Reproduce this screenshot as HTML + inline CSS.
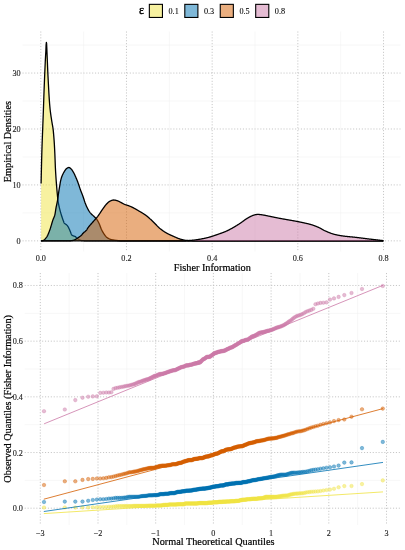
<!DOCTYPE html>
<html lang="en"><head><meta charset="utf-8"><title>Fisher Information</title>
<style>html,body{margin:0;padding:0;background:#fff}svg{display:block}text{fill:#000;stroke:#000;stroke-width:.2px}.t text{fill:#262626;stroke:#262626;stroke-width:.14px}.lg{stroke-width:.08px}</style></head>
<body>
<svg width="405" height="550" viewBox="0 0 405 550" font-family="'Liberation Serif', 'Times New Roman', serif">
<rect width="405" height="550" fill="#fff"/>
<text x="141.4" y="13.8" font-size="12" text-anchor="middle" style="stroke-width:.35px">ε</text>
<rect x="149.35" y="4.35" width="13.1" height="13.1" fill="#F0E442" fill-opacity="0.5" stroke="#000" stroke-width="1.1"/>
<text x="168.50" y="13.8" font-size="8.2" class="lg">0.1</text>
<rect x="184.80" y="4.35" width="13.1" height="13.1" fill="#0072B2" fill-opacity="0.5" stroke="#000" stroke-width="1.1"/>
<text x="203.95" y="13.8" font-size="8.2" class="lg">0.3</text>
<rect x="220.25" y="4.35" width="13.1" height="13.1" fill="#D55E00" fill-opacity="0.5" stroke="#000" stroke-width="1.1"/>
<text x="239.40" y="13.8" font-size="8.2" class="lg">0.5</text>
<rect x="255.70" y="4.35" width="13.1" height="13.1" fill="#CC79A7" fill-opacity="0.5" stroke="#000" stroke-width="1.1"/>
<text x="274.85" y="13.8" font-size="8.2" class="lg">0.8</text>
<line x1="83.64" x2="83.64" y1="31.5" y2="251.5" stroke="#f2f2f2" stroke-width="0.6"/>
<line x1="169.32" x2="169.32" y1="31.5" y2="251.5" stroke="#f2f2f2" stroke-width="0.6"/>
<line x1="255.00" x2="255.00" y1="31.5" y2="251.5" stroke="#f2f2f2" stroke-width="0.6"/>
<line x1="340.68" x2="340.68" y1="31.5" y2="251.5" stroke="#f2f2f2" stroke-width="0.6"/>
<line y1="212.88" y2="212.88" x1="22.5" x2="400.5" stroke="#f2f2f2" stroke-width="0.6"/>
<line y1="156.95" y2="156.95" x1="22.5" x2="400.5" stroke="#f2f2f2" stroke-width="0.6"/>
<line y1="101.03" y2="101.03" x1="22.5" x2="400.5" stroke="#f2f2f2" stroke-width="0.6"/>
<line y1="45.09" y2="45.09" x1="22.5" x2="400.5" stroke="#f2f2f2" stroke-width="0.6"/>
<line x1="40.80" x2="40.80" y1="31.5" y2="251.5" stroke="#b8b8b8" stroke-width="0.8" stroke-dasharray="1.1 1.8"/>
<line x1="126.48" x2="126.48" y1="31.5" y2="251.5" stroke="#b8b8b8" stroke-width="0.8" stroke-dasharray="1.1 1.8"/>
<line x1="212.16" x2="212.16" y1="31.5" y2="251.5" stroke="#b8b8b8" stroke-width="0.8" stroke-dasharray="1.1 1.8"/>
<line x1="297.84" x2="297.84" y1="31.5" y2="251.5" stroke="#b8b8b8" stroke-width="0.8" stroke-dasharray="1.1 1.8"/>
<line x1="383.52" x2="383.52" y1="31.5" y2="251.5" stroke="#b8b8b8" stroke-width="0.8" stroke-dasharray="1.1 1.8"/>
<line y1="240.85" y2="240.85" x1="22.5" x2="400.5" stroke="#b8b8b8" stroke-width="0.8" stroke-dasharray="1.1 1.8"/>
<line y1="184.92" y2="184.92" x1="22.5" x2="400.5" stroke="#b8b8b8" stroke-width="0.8" stroke-dasharray="1.1 1.8"/>
<line y1="128.99" y2="128.99" x1="22.5" x2="400.5" stroke="#b8b8b8" stroke-width="0.8" stroke-dasharray="1.1 1.8"/>
<line y1="73.06" y2="73.06" x1="22.5" x2="400.5" stroke="#b8b8b8" stroke-width="0.8" stroke-dasharray="1.1 1.8"/>
<path d="M41.10,183.60 L41.35,171.44 L41.60,161.07 L41.85,152.08 L42.10,144.22 L42.35,137.44 L42.60,131.11 L42.85,124.59 L43.10,118.10 L43.35,111.40 L43.60,104.03 L43.85,96.42 L44.10,89.62 L44.35,83.25 L44.60,77.08 L44.85,71.15 L45.10,65.42 L45.35,60.02 L45.60,55.58 L45.85,51.34 L46.10,44.82 L46.35,42.48 L46.60,43.51 L46.85,48.96 L47.10,55.17 L47.35,61.25 L47.60,67.64 L47.85,73.22 L48.10,78.17 L48.35,82.97 L48.60,87.82 L48.85,92.46 L49.10,96.60 L49.35,100.40 L49.60,103.79 L49.85,106.67 L50.10,109.19 L50.35,111.42 L50.60,113.40 L50.85,115.17 L51.10,116.82 L51.35,118.46 L51.60,120.06 L51.85,121.62 L52.10,123.15 L52.35,124.64 L52.60,125.99 L52.85,127.38 L53.10,129.08 L53.35,131.35 L53.60,134.11 L53.85,137.09 L54.10,140.38 L54.35,144.16 L54.60,148.67 L54.85,153.89 L55.10,160.21 L55.35,166.91 L55.60,171.75 L55.85,175.76 L56.10,179.45 L56.35,182.84 L56.60,186.00 L56.85,189.00 L57.10,191.84 L57.35,194.53 L57.60,197.22 L57.85,199.53 L58.10,201.24 L58.35,202.75 L58.60,204.11 L58.85,205.35 L59.10,206.49 L59.35,207.56 L59.60,208.59 L59.85,209.60 L60.10,210.60 L60.35,211.55 L60.60,212.45 L60.85,213.32 L61.10,214.15 L61.35,214.97 L61.60,215.76 L61.85,216.54 L62.10,217.32 L62.35,218.08 L62.60,218.81 L62.85,219.53 L63.10,220.21 L63.35,220.87 L63.60,221.53 L63.85,222.20 L64.10,222.78 L64.35,223.16 L64.60,223.40 L64.85,223.59 L65.10,223.76 L65.35,223.94 L65.60,224.11 L65.85,224.27 L66.10,224.45 L66.35,224.64 L66.60,224.86 L66.85,225.10 L67.10,225.37 L67.35,225.66 L67.60,225.99 L67.85,226.36 L68.10,226.76 L68.35,227.19 L68.60,227.66 L68.85,228.17 L69.10,228.72 L69.35,229.28 L69.60,229.87 L69.85,230.46 L70.10,231.04 L70.35,231.62 L70.60,232.26 L70.85,232.95 L71.10,233.64 L71.35,234.26 L71.60,234.75 L71.85,235.04 L72.10,235.24 L72.35,235.40 L72.60,235.54 L72.85,235.66 L73.10,235.76 L73.35,235.86 L73.60,235.96 L73.85,236.06 L74.10,236.14 L74.35,236.20 L74.60,236.27 L74.85,236.35 L75.10,236.45 L75.35,236.59 L75.60,236.81 L75.85,237.07 L76.10,237.36 L76.35,237.65 L76.60,237.91 L76.85,238.12 L77.10,238.33 L77.35,238.52 L77.60,238.71 L77.85,238.89 L78.10,239.06 L78.35,239.21 L78.60,239.35 L78.85,239.47 L79.10,239.60 L79.35,239.72 L79.60,239.84 L79.85,239.96 L80.10,240.07 L80.35,240.17 L80.60,240.27 L80.85,240.36 L81.10,240.43 L81.35,240.50 L81.60,240.55 L81.85,240.59 L82.10,240.61 L82.35,240.63 L82.60,240.64 L82.85,240.66 L83.10,240.68 L83.35,240.69 L83.60,240.71 L83.85,240.72 L84.10,240.74 L84.35,240.75 L84.60,240.77 L84.85,240.78 L85.10,240.79 L85.35,240.80 L85.60,240.81 L85.85,240.82 L86.10,240.83 L86.35,240.84 L86.60,240.85 L86.85,240.85 L87.10,240.86 L87.35,240.87 L87.60,240.87 L87.85,240.88 L88.10,240.88 L88.35,240.89 L88.60,240.89 L88.85,240.89 L89.10,240.90 L89.35,240.90 L89.60,240.90 L89.85,240.90 L90.10,240.90 L383.30,240.90 L383.30,240.90 L41.10,240.90 Z" fill="#F0E442" fill-opacity="0.5" stroke="none"/>
<path d="M41.10,183.60 L41.35,171.44 L41.60,161.07 L41.85,152.08 L42.10,144.22 L42.35,137.44 L42.60,131.11 L42.85,124.59 L43.10,118.10 L43.35,111.40 L43.60,104.03 L43.85,96.42 L44.10,89.62 L44.35,83.25 L44.60,77.08 L44.85,71.15 L45.10,65.42 L45.35,60.02 L45.60,55.58 L45.85,51.34 L46.10,44.82 L46.35,42.48 L46.60,43.51 L46.85,48.96 L47.10,55.17 L47.35,61.25 L47.60,67.64 L47.85,73.22 L48.10,78.17 L48.35,82.97 L48.60,87.82 L48.85,92.46 L49.10,96.60 L49.35,100.40 L49.60,103.79 L49.85,106.67 L50.10,109.19 L50.35,111.42 L50.60,113.40 L50.85,115.17 L51.10,116.82 L51.35,118.46 L51.60,120.06 L51.85,121.62 L52.10,123.15 L52.35,124.64 L52.60,125.99 L52.85,127.38 L53.10,129.08 L53.35,131.35 L53.60,134.11 L53.85,137.09 L54.10,140.38 L54.35,144.16 L54.60,148.67 L54.85,153.89 L55.10,160.21 L55.35,166.91 L55.60,171.75 L55.85,175.76 L56.10,179.45 L56.35,182.84 L56.60,186.00 L56.85,189.00 L57.10,191.84 L57.35,194.53 L57.60,197.22 L57.85,199.53 L58.10,201.24 L58.35,202.75 L58.60,204.11 L58.85,205.35 L59.10,206.49 L59.35,207.56 L59.60,208.59 L59.85,209.60 L60.10,210.60 L60.35,211.55 L60.60,212.45 L60.85,213.32 L61.10,214.15 L61.35,214.97 L61.60,215.76 L61.85,216.54 L62.10,217.32 L62.35,218.08 L62.60,218.81 L62.85,219.53 L63.10,220.21 L63.35,220.87 L63.60,221.53 L63.85,222.20 L64.10,222.78 L64.35,223.16 L64.60,223.40 L64.85,223.59 L65.10,223.76 L65.35,223.94 L65.60,224.11 L65.85,224.27 L66.10,224.45 L66.35,224.64 L66.60,224.86 L66.85,225.10 L67.10,225.37 L67.35,225.66 L67.60,225.99 L67.85,226.36 L68.10,226.76 L68.35,227.19 L68.60,227.66 L68.85,228.17 L69.10,228.72 L69.35,229.28 L69.60,229.87 L69.85,230.46 L70.10,231.04 L70.35,231.62 L70.60,232.26 L70.85,232.95 L71.10,233.64 L71.35,234.26 L71.60,234.75 L71.85,235.04 L72.10,235.24 L72.35,235.40 L72.60,235.54 L72.85,235.66 L73.10,235.76 L73.35,235.86 L73.60,235.96 L73.85,236.06 L74.10,236.14 L74.35,236.20 L74.60,236.27 L74.85,236.35 L75.10,236.45 L75.35,236.59 L75.60,236.81 L75.85,237.07 L76.10,237.36 L76.35,237.65 L76.60,237.91 L76.85,238.12 L77.10,238.33 L77.35,238.52 L77.60,238.71 L77.85,238.89 L78.10,239.06 L78.35,239.21 L78.60,239.35 L78.85,239.47 L79.10,239.60 L79.35,239.72 L79.60,239.84 L79.85,239.96 L80.10,240.07 L80.35,240.17 L80.60,240.27 L80.85,240.36 L81.10,240.43 L81.35,240.50 L81.60,240.55 L81.85,240.59 L82.10,240.61 L82.35,240.63 L82.60,240.64 L82.85,240.66 L83.10,240.68 L83.35,240.69 L83.60,240.71 L83.85,240.72 L84.10,240.74 L84.35,240.75 L84.60,240.77 L84.85,240.78 L85.10,240.79 L85.35,240.80 L85.60,240.81 L85.85,240.82 L86.10,240.83 L86.35,240.84 L86.60,240.85 L86.85,240.85 L87.10,240.86 L87.35,240.87 L87.60,240.87 L87.85,240.88 L88.10,240.88 L88.35,240.89 L88.60,240.89 L88.85,240.89 L89.10,240.90 L89.35,240.90 L89.60,240.90 L89.85,240.90 L90.10,240.90 L383.30,240.90" fill="none" stroke="#000" stroke-width="1.3" stroke-linejoin="round"/>
<path d="M41.10,240.90 L41.35,240.89 L41.60,240.86 L41.85,240.82 L42.10,240.76 L42.35,240.70 L42.60,240.63 L42.85,240.55 L43.10,240.47 L43.35,240.36 L43.60,240.23 L43.85,240.07 L44.10,239.89 L44.35,239.69 L44.60,239.47 L44.85,239.23 L45.10,238.97 L45.35,238.69 L45.60,238.40 L45.85,238.10 L46.10,237.79 L46.35,237.47 L46.60,237.13 L46.85,236.79 L47.10,236.39 L47.35,235.94 L47.60,235.45 L47.85,234.92 L48.10,234.36 L48.35,233.77 L48.60,233.15 L48.85,232.51 L49.10,231.86 L49.35,231.20 L49.60,230.53 L49.85,229.87 L50.10,229.16 L50.35,228.41 L50.60,227.62 L50.85,226.79 L51.10,225.94 L51.35,225.08 L51.60,224.22 L51.85,223.36 L52.10,222.51 L52.35,221.69 L52.60,220.90 L52.85,220.14 L53.10,219.46 L53.35,218.84 L53.60,218.27 L53.85,217.70 L54.10,217.11 L54.35,216.45 L54.60,215.70 L54.85,214.80 L55.10,213.58 L55.35,212.07 L55.60,210.44 L55.85,208.86 L56.10,207.47 L56.35,206.22 L56.60,205.03 L56.85,203.86 L57.10,202.66 L57.35,201.39 L57.60,200.00 L57.85,198.40 L58.10,196.62 L58.35,194.75 L58.60,192.91 L58.85,191.21 L59.10,189.66 L59.35,188.09 L59.60,186.54 L59.85,185.02 L60.10,183.57 L60.35,182.19 L60.60,180.93 L60.85,179.80 L61.10,178.84 L61.35,178.03 L61.60,177.28 L61.85,176.59 L62.10,175.94 L62.35,175.34 L62.60,174.77 L62.85,174.24 L63.10,173.74 L63.35,173.26 L63.60,172.80 L63.85,172.36 L64.10,171.94 L64.35,171.52 L64.60,171.10 L64.85,170.69 L65.10,170.29 L65.35,169.90 L65.60,169.55 L65.85,169.23 L66.10,168.95 L66.35,168.71 L66.60,168.53 L66.85,168.36 L67.10,168.19 L67.35,168.04 L67.60,167.90 L67.85,167.77 L68.10,167.66 L68.35,167.58 L68.60,167.52 L68.85,167.50 L69.10,167.52 L69.35,167.59 L69.60,167.70 L69.85,167.86 L70.10,168.04 L70.35,168.24 L70.60,168.45 L70.85,168.67 L71.10,168.89 L71.35,169.14 L71.60,169.43 L71.85,169.76 L72.10,170.11 L72.35,170.49 L72.60,170.88 L72.85,171.29 L73.10,171.72 L73.35,172.14 L73.60,172.57 L73.85,173.03 L74.10,173.51 L74.35,174.02 L74.60,174.55 L74.85,175.09 L75.10,175.65 L75.35,176.21 L75.60,176.77 L75.85,177.34 L76.10,177.92 L76.35,178.51 L76.60,179.11 L76.85,179.72 L77.10,180.34 L77.35,180.97 L77.60,181.61 L77.85,182.27 L78.10,182.93 L78.35,183.61 L78.60,184.32 L78.85,185.06 L79.10,185.82 L79.35,186.58 L79.60,187.35 L79.85,188.11 L80.10,188.86 L80.35,189.58 L80.60,190.27 L80.85,190.94 L81.10,191.59 L81.35,192.22 L81.60,192.85 L81.85,193.47 L82.10,194.10 L82.35,194.74 L82.60,195.39 L82.85,196.06 L83.10,196.76 L83.35,197.50 L83.60,198.26 L83.85,199.04 L84.10,199.82 L84.35,200.59 L84.60,201.36 L84.85,202.10 L85.10,202.81 L85.35,203.47 L85.60,204.10 L85.85,204.71 L86.10,205.31 L86.35,205.90 L86.60,206.46 L86.85,207.01 L87.10,207.54 L87.35,208.05 L87.60,208.54 L87.85,209.01 L88.10,209.46 L88.35,209.90 L88.60,210.32 L88.85,210.73 L89.10,211.13 L89.35,211.51 L89.60,211.87 L89.85,212.22 L90.10,212.55 L90.35,212.86 L90.60,213.15 L90.85,213.43 L91.10,213.70 L91.35,213.95 L91.60,214.20 L91.85,214.44 L92.10,214.67 L92.35,214.90 L92.60,215.13 L92.85,215.37 L93.10,215.61 L93.35,215.85 L93.60,216.10 L93.85,216.33 L94.10,216.57 L94.35,216.79 L94.60,217.02 L94.85,217.25 L95.10,217.48 L95.35,217.72 L95.60,217.97 L95.85,218.24 L96.10,218.52 L96.35,218.81 L96.60,219.13 L96.85,219.47 L97.10,219.84 L97.35,220.24 L97.60,220.65 L97.85,221.09 L98.10,221.55 L98.35,222.02 L98.60,222.50 L98.85,223.00 L99.10,223.51 L99.35,224.07 L99.60,224.68 L99.85,225.32 L100.10,225.98 L100.35,226.65 L100.60,227.32 L100.85,227.97 L101.10,228.60 L101.35,229.18 L101.60,229.71 L101.85,230.22 L102.10,230.71 L102.35,231.19 L102.60,231.66 L102.85,232.11 L103.10,232.54 L103.35,232.96 L103.60,233.35 L103.85,233.73 L104.10,234.09 L104.35,234.45 L104.60,234.80 L104.85,235.14 L105.10,235.48 L105.35,235.80 L105.60,236.11 L105.85,236.41 L106.10,236.68 L106.35,236.94 L106.60,237.18 L106.85,237.39 L107.10,237.57 L107.35,237.75 L107.60,237.92 L107.85,238.08 L108.10,238.24 L108.35,238.38 L108.60,238.52 L108.85,238.66 L109.10,238.78 L109.35,238.90 L109.60,239.01 L109.85,239.12 L110.10,239.21 L110.35,239.29 L110.60,239.37 L110.85,239.44 L111.10,239.51 L111.35,239.57 L111.60,239.63 L111.85,239.68 L112.10,239.73 L112.35,239.78 L112.60,239.83 L112.85,239.88 L113.10,239.92 L113.35,239.96 L113.60,240.00 L113.85,240.04 L114.10,240.08 L114.35,240.11 L114.60,240.15 L114.85,240.18 L115.10,240.21 L115.35,240.25 L115.60,240.28 L115.85,240.31 L116.10,240.35 L116.35,240.38 L116.60,240.41 L116.85,240.44 L117.10,240.48 L117.35,240.51 L117.60,240.54 L117.85,240.57 L118.10,240.59 L118.35,240.62 L118.60,240.65 L118.85,240.67 L119.10,240.69 L119.35,240.71 L119.60,240.73 L119.85,240.75 L120.10,240.76 L120.35,240.78 L120.60,240.79 L120.85,240.80 L121.10,240.80 L121.35,240.81 L121.60,240.81 L121.85,240.82 L122.10,240.82 L122.35,240.83 L122.60,240.83 L122.85,240.84 L123.10,240.84 L123.35,240.84 L123.60,240.85 L123.85,240.85 L124.10,240.86 L124.35,240.86 L124.60,240.86 L124.85,240.87 L125.10,240.87 L125.35,240.87 L125.60,240.87 L125.85,240.88 L126.10,240.88 L126.35,240.88 L126.60,240.88 L126.85,240.89 L127.10,240.89 L127.35,240.89 L127.60,240.89 L127.85,240.89 L128.10,240.90 L128.35,240.90 L128.60,240.90 L128.85,240.90 L129.10,240.90 L129.35,240.90 L129.60,240.90 L129.85,240.90 L130.10,240.90 L383.30,240.90 L383.30,240.90 L41.10,240.90 Z" fill="#0072B2" fill-opacity="0.5" stroke="none"/>
<path d="M41.10,240.90 L41.35,240.89 L41.60,240.86 L41.85,240.82 L42.10,240.76 L42.35,240.70 L42.60,240.63 L42.85,240.55 L43.10,240.47 L43.35,240.36 L43.60,240.23 L43.85,240.07 L44.10,239.89 L44.35,239.69 L44.60,239.47 L44.85,239.23 L45.10,238.97 L45.35,238.69 L45.60,238.40 L45.85,238.10 L46.10,237.79 L46.35,237.47 L46.60,237.13 L46.85,236.79 L47.10,236.39 L47.35,235.94 L47.60,235.45 L47.85,234.92 L48.10,234.36 L48.35,233.77 L48.60,233.15 L48.85,232.51 L49.10,231.86 L49.35,231.20 L49.60,230.53 L49.85,229.87 L50.10,229.16 L50.35,228.41 L50.60,227.62 L50.85,226.79 L51.10,225.94 L51.35,225.08 L51.60,224.22 L51.85,223.36 L52.10,222.51 L52.35,221.69 L52.60,220.90 L52.85,220.14 L53.10,219.46 L53.35,218.84 L53.60,218.27 L53.85,217.70 L54.10,217.11 L54.35,216.45 L54.60,215.70 L54.85,214.80 L55.10,213.58 L55.35,212.07 L55.60,210.44 L55.85,208.86 L56.10,207.47 L56.35,206.22 L56.60,205.03 L56.85,203.86 L57.10,202.66 L57.35,201.39 L57.60,200.00 L57.85,198.40 L58.10,196.62 L58.35,194.75 L58.60,192.91 L58.85,191.21 L59.10,189.66 L59.35,188.09 L59.60,186.54 L59.85,185.02 L60.10,183.57 L60.35,182.19 L60.60,180.93 L60.85,179.80 L61.10,178.84 L61.35,178.03 L61.60,177.28 L61.85,176.59 L62.10,175.94 L62.35,175.34 L62.60,174.77 L62.85,174.24 L63.10,173.74 L63.35,173.26 L63.60,172.80 L63.85,172.36 L64.10,171.94 L64.35,171.52 L64.60,171.10 L64.85,170.69 L65.10,170.29 L65.35,169.90 L65.60,169.55 L65.85,169.23 L66.10,168.95 L66.35,168.71 L66.60,168.53 L66.85,168.36 L67.10,168.19 L67.35,168.04 L67.60,167.90 L67.85,167.77 L68.10,167.66 L68.35,167.58 L68.60,167.52 L68.85,167.50 L69.10,167.52 L69.35,167.59 L69.60,167.70 L69.85,167.86 L70.10,168.04 L70.35,168.24 L70.60,168.45 L70.85,168.67 L71.10,168.89 L71.35,169.14 L71.60,169.43 L71.85,169.76 L72.10,170.11 L72.35,170.49 L72.60,170.88 L72.85,171.29 L73.10,171.72 L73.35,172.14 L73.60,172.57 L73.85,173.03 L74.10,173.51 L74.35,174.02 L74.60,174.55 L74.85,175.09 L75.10,175.65 L75.35,176.21 L75.60,176.77 L75.85,177.34 L76.10,177.92 L76.35,178.51 L76.60,179.11 L76.85,179.72 L77.10,180.34 L77.35,180.97 L77.60,181.61 L77.85,182.27 L78.10,182.93 L78.35,183.61 L78.60,184.32 L78.85,185.06 L79.10,185.82 L79.35,186.58 L79.60,187.35 L79.85,188.11 L80.10,188.86 L80.35,189.58 L80.60,190.27 L80.85,190.94 L81.10,191.59 L81.35,192.22 L81.60,192.85 L81.85,193.47 L82.10,194.10 L82.35,194.74 L82.60,195.39 L82.85,196.06 L83.10,196.76 L83.35,197.50 L83.60,198.26 L83.85,199.04 L84.10,199.82 L84.35,200.59 L84.60,201.36 L84.85,202.10 L85.10,202.81 L85.35,203.47 L85.60,204.10 L85.85,204.71 L86.10,205.31 L86.35,205.90 L86.60,206.46 L86.85,207.01 L87.10,207.54 L87.35,208.05 L87.60,208.54 L87.85,209.01 L88.10,209.46 L88.35,209.90 L88.60,210.32 L88.85,210.73 L89.10,211.13 L89.35,211.51 L89.60,211.87 L89.85,212.22 L90.10,212.55 L90.35,212.86 L90.60,213.15 L90.85,213.43 L91.10,213.70 L91.35,213.95 L91.60,214.20 L91.85,214.44 L92.10,214.67 L92.35,214.90 L92.60,215.13 L92.85,215.37 L93.10,215.61 L93.35,215.85 L93.60,216.10 L93.85,216.33 L94.10,216.57 L94.35,216.79 L94.60,217.02 L94.85,217.25 L95.10,217.48 L95.35,217.72 L95.60,217.97 L95.85,218.24 L96.10,218.52 L96.35,218.81 L96.60,219.13 L96.85,219.47 L97.10,219.84 L97.35,220.24 L97.60,220.65 L97.85,221.09 L98.10,221.55 L98.35,222.02 L98.60,222.50 L98.85,223.00 L99.10,223.51 L99.35,224.07 L99.60,224.68 L99.85,225.32 L100.10,225.98 L100.35,226.65 L100.60,227.32 L100.85,227.97 L101.10,228.60 L101.35,229.18 L101.60,229.71 L101.85,230.22 L102.10,230.71 L102.35,231.19 L102.60,231.66 L102.85,232.11 L103.10,232.54 L103.35,232.96 L103.60,233.35 L103.85,233.73 L104.10,234.09 L104.35,234.45 L104.60,234.80 L104.85,235.14 L105.10,235.48 L105.35,235.80 L105.60,236.11 L105.85,236.41 L106.10,236.68 L106.35,236.94 L106.60,237.18 L106.85,237.39 L107.10,237.57 L107.35,237.75 L107.60,237.92 L107.85,238.08 L108.10,238.24 L108.35,238.38 L108.60,238.52 L108.85,238.66 L109.10,238.78 L109.35,238.90 L109.60,239.01 L109.85,239.12 L110.10,239.21 L110.35,239.29 L110.60,239.37 L110.85,239.44 L111.10,239.51 L111.35,239.57 L111.60,239.63 L111.85,239.68 L112.10,239.73 L112.35,239.78 L112.60,239.83 L112.85,239.88 L113.10,239.92 L113.35,239.96 L113.60,240.00 L113.85,240.04 L114.10,240.08 L114.35,240.11 L114.60,240.15 L114.85,240.18 L115.10,240.21 L115.35,240.25 L115.60,240.28 L115.85,240.31 L116.10,240.35 L116.35,240.38 L116.60,240.41 L116.85,240.44 L117.10,240.48 L117.35,240.51 L117.60,240.54 L117.85,240.57 L118.10,240.59 L118.35,240.62 L118.60,240.65 L118.85,240.67 L119.10,240.69 L119.35,240.71 L119.60,240.73 L119.85,240.75 L120.10,240.76 L120.35,240.78 L120.60,240.79 L120.85,240.80 L121.10,240.80 L121.35,240.81 L121.60,240.81 L121.85,240.82 L122.10,240.82 L122.35,240.83 L122.60,240.83 L122.85,240.84 L123.10,240.84 L123.35,240.84 L123.60,240.85 L123.85,240.85 L124.10,240.86 L124.35,240.86 L124.60,240.86 L124.85,240.87 L125.10,240.87 L125.35,240.87 L125.60,240.87 L125.85,240.88 L126.10,240.88 L126.35,240.88 L126.60,240.88 L126.85,240.89 L127.10,240.89 L127.35,240.89 L127.60,240.89 L127.85,240.89 L128.10,240.90 L128.35,240.90 L128.60,240.90 L128.85,240.90 L129.10,240.90 L129.35,240.90 L129.60,240.90 L129.85,240.90 L130.10,240.90 L383.30,240.90" fill="none" stroke="#000" stroke-width="1.3" stroke-linejoin="round"/>
<path d="M41.10,240.90 L67.85,240.90 L68.10,240.90 L68.35,240.90 L68.60,240.89 L68.85,240.88 L69.10,240.87 L69.35,240.86 L69.60,240.84 L69.85,240.82 L70.10,240.80 L70.35,240.78 L70.60,240.76 L70.85,240.73 L71.10,240.71 L71.35,240.68 L71.60,240.65 L71.85,240.62 L72.10,240.59 L72.35,240.55 L72.60,240.49 L72.85,240.43 L73.10,240.36 L73.35,240.29 L73.60,240.21 L73.85,240.12 L74.10,240.04 L74.35,239.94 L74.60,239.84 L74.85,239.73 L75.10,239.61 L75.35,239.47 L75.60,239.33 L75.85,239.19 L76.10,239.04 L76.35,238.88 L76.60,238.72 L76.85,238.56 L77.10,238.39 L77.35,238.23 L77.60,238.07 L77.85,237.90 L78.10,237.74 L78.35,237.57 L78.60,237.40 L78.85,237.23 L79.10,237.06 L79.35,236.88 L79.60,236.70 L79.85,236.51 L80.10,236.32 L80.35,236.12 L80.60,235.91 L80.85,235.70 L81.10,235.47 L81.35,235.24 L81.60,235.00 L81.85,234.73 L82.10,234.41 L82.35,234.08 L82.60,233.76 L82.85,233.45 L83.10,233.19 L83.35,232.95 L83.60,232.72 L83.85,232.50 L84.10,232.29 L84.35,232.09 L84.60,231.89 L84.85,231.69 L85.10,231.48 L85.35,231.27 L85.60,231.05 L85.85,230.82 L86.10,230.56 L86.35,230.29 L86.60,230.00 L86.85,229.65 L87.10,229.24 L87.35,228.80 L87.60,228.37 L87.85,227.97 L88.10,227.62 L88.35,227.28 L88.60,226.95 L88.85,226.64 L89.10,226.32 L89.35,226.02 L89.60,225.72 L89.85,225.43 L90.10,225.14 L90.35,224.86 L90.60,224.57 L90.85,224.29 L91.10,224.02 L91.35,223.74 L91.60,223.46 L91.85,223.18 L92.10,222.90 L92.35,222.62 L92.60,222.33 L92.85,222.04 L93.10,221.75 L93.35,221.46 L93.60,221.18 L93.85,220.90 L94.10,220.62 L94.35,220.34 L94.60,220.06 L94.85,219.78 L95.10,219.50 L95.35,219.22 L95.60,218.94 L95.85,218.66 L96.10,218.37 L96.35,218.08 L96.60,217.78 L96.85,217.49 L97.10,217.18 L97.35,216.87 L97.60,216.56 L97.85,216.23 L98.10,215.90 L98.35,215.56 L98.60,215.21 L98.85,214.85 L99.10,214.49 L99.35,214.12 L99.60,213.75 L99.85,213.37 L100.10,212.99 L100.35,212.60 L100.60,212.22 L100.85,211.84 L101.10,211.45 L101.35,211.07 L101.60,210.70 L101.85,210.32 L102.10,209.96 L102.35,209.59 L102.60,209.24 L102.85,208.89 L103.10,208.54 L103.35,208.18 L103.60,207.83 L103.85,207.47 L104.10,207.11 L104.35,206.76 L104.60,206.41 L104.85,206.07 L105.10,205.74 L105.35,205.42 L105.60,205.10 L105.85,204.81 L106.10,204.52 L106.35,204.25 L106.60,203.99 L106.85,203.74 L107.10,203.48 L107.35,203.23 L107.60,202.99 L107.85,202.75 L108.10,202.51 L108.35,202.29 L108.60,202.08 L108.85,201.88 L109.10,201.69 L109.35,201.52 L109.60,201.36 L109.85,201.22 L110.10,201.10 L110.35,200.99 L110.60,200.88 L110.85,200.77 L111.10,200.67 L111.35,200.57 L111.60,200.47 L111.85,200.38 L112.10,200.30 L112.35,200.22 L112.60,200.16 L112.85,200.10 L113.10,200.06 L113.35,200.02 L113.60,200.00 L113.85,200.00 L114.10,200.01 L114.35,200.03 L114.60,200.06 L114.85,200.09 L115.10,200.14 L115.35,200.19 L115.60,200.25 L115.85,200.31 L116.10,200.38 L116.35,200.45 L116.60,200.53 L116.85,200.60 L117.10,200.68 L117.35,200.75 L117.60,200.83 L117.85,200.92 L118.10,201.01 L118.35,201.12 L118.60,201.23 L118.85,201.35 L119.10,201.48 L119.35,201.61 L119.60,201.74 L119.85,201.88 L120.10,202.01 L120.35,202.15 L120.60,202.29 L120.85,202.42 L121.10,202.55 L121.35,202.68 L121.60,202.81 L121.85,202.94 L122.10,203.07 L122.35,203.21 L122.60,203.35 L122.85,203.49 L123.10,203.63 L123.35,203.76 L123.60,203.89 L123.85,204.02 L124.10,204.15 L124.35,204.26 L124.60,204.38 L124.85,204.48 L125.10,204.58 L125.35,204.67 L125.60,204.75 L125.85,204.83 L126.10,204.91 L126.35,204.98 L126.60,205.06 L126.85,205.13 L127.10,205.21 L127.35,205.28 L127.60,205.36 L127.85,205.45 L128.10,205.54 L128.35,205.63 L128.60,205.72 L128.85,205.81 L129.10,205.91 L129.35,206.01 L129.60,206.11 L129.85,206.21 L130.10,206.31 L130.35,206.42 L130.60,206.52 L130.85,206.63 L131.10,206.74 L131.35,206.85 L131.60,206.96 L131.85,207.08 L132.10,207.19 L132.35,207.31 L132.60,207.43 L132.85,207.56 L133.10,207.68 L133.35,207.81 L133.60,207.94 L133.85,208.07 L134.10,208.21 L134.35,208.34 L134.60,208.48 L134.85,208.62 L135.10,208.76 L135.35,208.90 L135.60,209.04 L135.85,209.18 L136.10,209.32 L136.35,209.47 L136.60,209.61 L136.85,209.76 L137.10,209.90 L137.35,210.05 L137.60,210.20 L137.85,210.34 L138.10,210.49 L138.35,210.64 L138.60,210.78 L138.85,210.93 L139.10,211.08 L139.35,211.22 L139.60,211.37 L139.85,211.51 L140.10,211.66 L140.35,211.80 L140.60,211.95 L140.85,212.09 L141.10,212.24 L141.35,212.39 L141.60,212.54 L141.85,212.69 L142.10,212.84 L142.35,212.99 L142.60,213.14 L142.85,213.30 L143.10,213.45 L143.35,213.61 L143.60,213.77 L143.85,213.93 L144.10,214.09 L144.35,214.26 L144.60,214.43 L144.85,214.60 L145.10,214.77 L145.35,214.95 L145.60,215.13 L145.85,215.31 L146.10,215.50 L146.35,215.69 L146.60,215.88 L146.85,216.08 L147.10,216.28 L147.35,216.48 L147.60,216.69 L147.85,216.90 L148.10,217.11 L148.35,217.32 L148.60,217.54 L148.85,217.76 L149.10,217.98 L149.35,218.20 L149.60,218.43 L149.85,218.66 L150.10,218.88 L150.35,219.11 L150.60,219.34 L150.85,219.58 L151.10,219.81 L151.35,220.04 L151.60,220.27 L151.85,220.51 L152.10,220.74 L152.35,220.97 L152.60,221.21 L152.85,221.44 L153.10,221.68 L153.35,221.92 L153.60,222.17 L153.85,222.42 L154.10,222.68 L154.35,222.94 L154.60,223.20 L154.85,223.46 L155.10,223.73 L155.35,223.99 L155.60,224.26 L155.85,224.53 L156.10,224.79 L156.35,225.06 L156.60,225.32 L156.85,225.58 L157.10,225.84 L157.35,226.10 L157.60,226.35 L157.85,226.60 L158.10,226.85 L158.35,227.09 L158.60,227.32 L158.85,227.55 L159.10,227.77 L159.35,227.99 L159.60,228.20 L159.85,228.40 L160.10,228.61 L160.35,228.81 L160.60,229.00 L160.85,229.20 L161.10,229.39 L161.35,229.58 L161.60,229.77 L161.85,229.96 L162.10,230.14 L162.35,230.32 L162.60,230.50 L162.85,230.68 L163.10,230.85 L163.35,231.03 L163.60,231.20 L163.85,231.36 L164.10,231.53 L164.35,231.69 L164.60,231.85 L164.85,232.01 L165.10,232.17 L165.35,232.32 L165.60,232.47 L165.85,232.62 L166.10,232.77 L166.35,232.91 L166.60,233.06 L166.85,233.20 L167.10,233.33 L167.35,233.47 L167.60,233.60 L167.85,233.73 L168.10,233.86 L168.35,233.99 L168.60,234.11 L168.85,234.24 L169.10,234.36 L169.35,234.48 L169.60,234.60 L169.85,234.71 L170.10,234.83 L170.35,234.95 L170.60,235.06 L170.85,235.17 L171.10,235.29 L171.35,235.40 L171.60,235.51 L171.85,235.62 L172.10,235.73 L172.35,235.84 L172.60,235.95 L172.85,236.06 L173.10,236.17 L173.35,236.28 L173.60,236.39 L173.85,236.50 L174.10,236.61 L174.35,236.72 L174.60,236.83 L174.85,236.95 L175.10,237.06 L175.35,237.17 L175.60,237.28 L175.85,237.39 L176.10,237.50 L176.35,237.61 L176.60,237.72 L176.85,237.83 L177.10,237.93 L177.35,238.04 L177.60,238.14 L177.85,238.24 L178.10,238.34 L178.35,238.44 L178.60,238.53 L178.85,238.62 L179.10,238.71 L179.35,238.80 L179.60,238.88 L179.85,238.96 L180.10,239.04 L180.35,239.11 L180.60,239.19 L180.85,239.26 L181.10,239.33 L181.35,239.41 L181.60,239.48 L181.85,239.55 L182.10,239.62 L182.35,239.69 L182.60,239.75 L182.85,239.82 L183.10,239.88 L183.35,239.94 L183.60,239.99 L183.85,240.05 L184.10,240.10 L184.35,240.14 L184.60,240.19 L184.85,240.22 L185.10,240.26 L185.35,240.29 L185.60,240.31 L185.85,240.33 L186.10,240.35 L186.35,240.37 L186.60,240.40 L186.85,240.42 L187.10,240.44 L187.35,240.45 L187.60,240.47 L187.85,240.49 L188.10,240.51 L188.35,240.53 L188.60,240.54 L188.85,240.56 L189.10,240.57 L189.35,240.59 L189.60,240.60 L189.85,240.62 L190.10,240.63 L190.35,240.64 L190.60,240.66 L190.85,240.67 L191.10,240.68 L191.35,240.69 L191.60,240.70 L191.85,240.71 L192.10,240.72 L192.35,240.73 L192.60,240.74 L192.85,240.75 L193.10,240.76 L193.35,240.76 L193.60,240.77 L193.85,240.78 L194.10,240.78 L194.35,240.79 L194.60,240.79 L194.85,240.80 L195.10,240.80 L195.35,240.81 L195.60,240.81 L195.85,240.81 L196.10,240.82 L196.35,240.82 L196.60,240.83 L196.85,240.83 L197.10,240.83 L197.35,240.84 L197.60,240.84 L197.85,240.84 L198.10,240.85 L198.35,240.85 L198.60,240.85 L198.85,240.86 L199.10,240.86 L199.35,240.86 L199.60,240.87 L199.85,240.87 L200.10,240.87 L200.35,240.87 L200.60,240.88 L200.85,240.88 L201.10,240.88 L201.35,240.88 L201.60,240.89 L201.85,240.89 L202.10,240.89 L202.35,240.89 L202.60,240.89 L202.85,240.89 L203.10,240.90 L203.35,240.90 L203.60,240.90 L203.85,240.90 L204.10,240.90 L204.35,240.90 L204.60,240.90 L204.85,240.90 L205.10,240.90 L383.30,240.90 L383.30,240.90 L41.10,240.90 Z" fill="#D55E00" fill-opacity="0.5" stroke="none"/>
<path d="M41.10,240.90 L67.85,240.90 L68.10,240.90 L68.35,240.90 L68.60,240.89 L68.85,240.88 L69.10,240.87 L69.35,240.86 L69.60,240.84 L69.85,240.82 L70.10,240.80 L70.35,240.78 L70.60,240.76 L70.85,240.73 L71.10,240.71 L71.35,240.68 L71.60,240.65 L71.85,240.62 L72.10,240.59 L72.35,240.55 L72.60,240.49 L72.85,240.43 L73.10,240.36 L73.35,240.29 L73.60,240.21 L73.85,240.12 L74.10,240.04 L74.35,239.94 L74.60,239.84 L74.85,239.73 L75.10,239.61 L75.35,239.47 L75.60,239.33 L75.85,239.19 L76.10,239.04 L76.35,238.88 L76.60,238.72 L76.85,238.56 L77.10,238.39 L77.35,238.23 L77.60,238.07 L77.85,237.90 L78.10,237.74 L78.35,237.57 L78.60,237.40 L78.85,237.23 L79.10,237.06 L79.35,236.88 L79.60,236.70 L79.85,236.51 L80.10,236.32 L80.35,236.12 L80.60,235.91 L80.85,235.70 L81.10,235.47 L81.35,235.24 L81.60,235.00 L81.85,234.73 L82.10,234.41 L82.35,234.08 L82.60,233.76 L82.85,233.45 L83.10,233.19 L83.35,232.95 L83.60,232.72 L83.85,232.50 L84.10,232.29 L84.35,232.09 L84.60,231.89 L84.85,231.69 L85.10,231.48 L85.35,231.27 L85.60,231.05 L85.85,230.82 L86.10,230.56 L86.35,230.29 L86.60,230.00 L86.85,229.65 L87.10,229.24 L87.35,228.80 L87.60,228.37 L87.85,227.97 L88.10,227.62 L88.35,227.28 L88.60,226.95 L88.85,226.64 L89.10,226.32 L89.35,226.02 L89.60,225.72 L89.85,225.43 L90.10,225.14 L90.35,224.86 L90.60,224.57 L90.85,224.29 L91.10,224.02 L91.35,223.74 L91.60,223.46 L91.85,223.18 L92.10,222.90 L92.35,222.62 L92.60,222.33 L92.85,222.04 L93.10,221.75 L93.35,221.46 L93.60,221.18 L93.85,220.90 L94.10,220.62 L94.35,220.34 L94.60,220.06 L94.85,219.78 L95.10,219.50 L95.35,219.22 L95.60,218.94 L95.85,218.66 L96.10,218.37 L96.35,218.08 L96.60,217.78 L96.85,217.49 L97.10,217.18 L97.35,216.87 L97.60,216.56 L97.85,216.23 L98.10,215.90 L98.35,215.56 L98.60,215.21 L98.85,214.85 L99.10,214.49 L99.35,214.12 L99.60,213.75 L99.85,213.37 L100.10,212.99 L100.35,212.60 L100.60,212.22 L100.85,211.84 L101.10,211.45 L101.35,211.07 L101.60,210.70 L101.85,210.32 L102.10,209.96 L102.35,209.59 L102.60,209.24 L102.85,208.89 L103.10,208.54 L103.35,208.18 L103.60,207.83 L103.85,207.47 L104.10,207.11 L104.35,206.76 L104.60,206.41 L104.85,206.07 L105.10,205.74 L105.35,205.42 L105.60,205.10 L105.85,204.81 L106.10,204.52 L106.35,204.25 L106.60,203.99 L106.85,203.74 L107.10,203.48 L107.35,203.23 L107.60,202.99 L107.85,202.75 L108.10,202.51 L108.35,202.29 L108.60,202.08 L108.85,201.88 L109.10,201.69 L109.35,201.52 L109.60,201.36 L109.85,201.22 L110.10,201.10 L110.35,200.99 L110.60,200.88 L110.85,200.77 L111.10,200.67 L111.35,200.57 L111.60,200.47 L111.85,200.38 L112.10,200.30 L112.35,200.22 L112.60,200.16 L112.85,200.10 L113.10,200.06 L113.35,200.02 L113.60,200.00 L113.85,200.00 L114.10,200.01 L114.35,200.03 L114.60,200.06 L114.85,200.09 L115.10,200.14 L115.35,200.19 L115.60,200.25 L115.85,200.31 L116.10,200.38 L116.35,200.45 L116.60,200.53 L116.85,200.60 L117.10,200.68 L117.35,200.75 L117.60,200.83 L117.85,200.92 L118.10,201.01 L118.35,201.12 L118.60,201.23 L118.85,201.35 L119.10,201.48 L119.35,201.61 L119.60,201.74 L119.85,201.88 L120.10,202.01 L120.35,202.15 L120.60,202.29 L120.85,202.42 L121.10,202.55 L121.35,202.68 L121.60,202.81 L121.85,202.94 L122.10,203.07 L122.35,203.21 L122.60,203.35 L122.85,203.49 L123.10,203.63 L123.35,203.76 L123.60,203.89 L123.85,204.02 L124.10,204.15 L124.35,204.26 L124.60,204.38 L124.85,204.48 L125.10,204.58 L125.35,204.67 L125.60,204.75 L125.85,204.83 L126.10,204.91 L126.35,204.98 L126.60,205.06 L126.85,205.13 L127.10,205.21 L127.35,205.28 L127.60,205.36 L127.85,205.45 L128.10,205.54 L128.35,205.63 L128.60,205.72 L128.85,205.81 L129.10,205.91 L129.35,206.01 L129.60,206.11 L129.85,206.21 L130.10,206.31 L130.35,206.42 L130.60,206.52 L130.85,206.63 L131.10,206.74 L131.35,206.85 L131.60,206.96 L131.85,207.08 L132.10,207.19 L132.35,207.31 L132.60,207.43 L132.85,207.56 L133.10,207.68 L133.35,207.81 L133.60,207.94 L133.85,208.07 L134.10,208.21 L134.35,208.34 L134.60,208.48 L134.85,208.62 L135.10,208.76 L135.35,208.90 L135.60,209.04 L135.85,209.18 L136.10,209.32 L136.35,209.47 L136.60,209.61 L136.85,209.76 L137.10,209.90 L137.35,210.05 L137.60,210.20 L137.85,210.34 L138.10,210.49 L138.35,210.64 L138.60,210.78 L138.85,210.93 L139.10,211.08 L139.35,211.22 L139.60,211.37 L139.85,211.51 L140.10,211.66 L140.35,211.80 L140.60,211.95 L140.85,212.09 L141.10,212.24 L141.35,212.39 L141.60,212.54 L141.85,212.69 L142.10,212.84 L142.35,212.99 L142.60,213.14 L142.85,213.30 L143.10,213.45 L143.35,213.61 L143.60,213.77 L143.85,213.93 L144.10,214.09 L144.35,214.26 L144.60,214.43 L144.85,214.60 L145.10,214.77 L145.35,214.95 L145.60,215.13 L145.85,215.31 L146.10,215.50 L146.35,215.69 L146.60,215.88 L146.85,216.08 L147.10,216.28 L147.35,216.48 L147.60,216.69 L147.85,216.90 L148.10,217.11 L148.35,217.32 L148.60,217.54 L148.85,217.76 L149.10,217.98 L149.35,218.20 L149.60,218.43 L149.85,218.66 L150.10,218.88 L150.35,219.11 L150.60,219.34 L150.85,219.58 L151.10,219.81 L151.35,220.04 L151.60,220.27 L151.85,220.51 L152.10,220.74 L152.35,220.97 L152.60,221.21 L152.85,221.44 L153.10,221.68 L153.35,221.92 L153.60,222.17 L153.85,222.42 L154.10,222.68 L154.35,222.94 L154.60,223.20 L154.85,223.46 L155.10,223.73 L155.35,223.99 L155.60,224.26 L155.85,224.53 L156.10,224.79 L156.35,225.06 L156.60,225.32 L156.85,225.58 L157.10,225.84 L157.35,226.10 L157.60,226.35 L157.85,226.60 L158.10,226.85 L158.35,227.09 L158.60,227.32 L158.85,227.55 L159.10,227.77 L159.35,227.99 L159.60,228.20 L159.85,228.40 L160.10,228.61 L160.35,228.81 L160.60,229.00 L160.85,229.20 L161.10,229.39 L161.35,229.58 L161.60,229.77 L161.85,229.96 L162.10,230.14 L162.35,230.32 L162.60,230.50 L162.85,230.68 L163.10,230.85 L163.35,231.03 L163.60,231.20 L163.85,231.36 L164.10,231.53 L164.35,231.69 L164.60,231.85 L164.85,232.01 L165.10,232.17 L165.35,232.32 L165.60,232.47 L165.85,232.62 L166.10,232.77 L166.35,232.91 L166.60,233.06 L166.85,233.20 L167.10,233.33 L167.35,233.47 L167.60,233.60 L167.85,233.73 L168.10,233.86 L168.35,233.99 L168.60,234.11 L168.85,234.24 L169.10,234.36 L169.35,234.48 L169.60,234.60 L169.85,234.71 L170.10,234.83 L170.35,234.95 L170.60,235.06 L170.85,235.17 L171.10,235.29 L171.35,235.40 L171.60,235.51 L171.85,235.62 L172.10,235.73 L172.35,235.84 L172.60,235.95 L172.85,236.06 L173.10,236.17 L173.35,236.28 L173.60,236.39 L173.85,236.50 L174.10,236.61 L174.35,236.72 L174.60,236.83 L174.85,236.95 L175.10,237.06 L175.35,237.17 L175.60,237.28 L175.85,237.39 L176.10,237.50 L176.35,237.61 L176.60,237.72 L176.85,237.83 L177.10,237.93 L177.35,238.04 L177.60,238.14 L177.85,238.24 L178.10,238.34 L178.35,238.44 L178.60,238.53 L178.85,238.62 L179.10,238.71 L179.35,238.80 L179.60,238.88 L179.85,238.96 L180.10,239.04 L180.35,239.11 L180.60,239.19 L180.85,239.26 L181.10,239.33 L181.35,239.41 L181.60,239.48 L181.85,239.55 L182.10,239.62 L182.35,239.69 L182.60,239.75 L182.85,239.82 L183.10,239.88 L183.35,239.94 L183.60,239.99 L183.85,240.05 L184.10,240.10 L184.35,240.14 L184.60,240.19 L184.85,240.22 L185.10,240.26 L185.35,240.29 L185.60,240.31 L185.85,240.33 L186.10,240.35 L186.35,240.37 L186.60,240.40 L186.85,240.42 L187.10,240.44 L187.35,240.45 L187.60,240.47 L187.85,240.49 L188.10,240.51 L188.35,240.53 L188.60,240.54 L188.85,240.56 L189.10,240.57 L189.35,240.59 L189.60,240.60 L189.85,240.62 L190.10,240.63 L190.35,240.64 L190.60,240.66 L190.85,240.67 L191.10,240.68 L191.35,240.69 L191.60,240.70 L191.85,240.71 L192.10,240.72 L192.35,240.73 L192.60,240.74 L192.85,240.75 L193.10,240.76 L193.35,240.76 L193.60,240.77 L193.85,240.78 L194.10,240.78 L194.35,240.79 L194.60,240.79 L194.85,240.80 L195.10,240.80 L195.35,240.81 L195.60,240.81 L195.85,240.81 L196.10,240.82 L196.35,240.82 L196.60,240.83 L196.85,240.83 L197.10,240.83 L197.35,240.84 L197.60,240.84 L197.85,240.84 L198.10,240.85 L198.35,240.85 L198.60,240.85 L198.85,240.86 L199.10,240.86 L199.35,240.86 L199.60,240.87 L199.85,240.87 L200.10,240.87 L200.35,240.87 L200.60,240.88 L200.85,240.88 L201.10,240.88 L201.35,240.88 L201.60,240.89 L201.85,240.89 L202.10,240.89 L202.35,240.89 L202.60,240.89 L202.85,240.89 L203.10,240.90 L203.35,240.90 L203.60,240.90 L203.85,240.90 L204.10,240.90 L204.35,240.90 L204.60,240.90 L204.85,240.90 L205.10,240.90 L383.30,240.90" fill="none" stroke="#000" stroke-width="1.3" stroke-linejoin="round"/>
<path d="M41.10,240.90 L179.85,240.90 L180.10,240.90 L180.35,240.90 L180.60,240.90 L180.85,240.90 L181.10,240.89 L181.35,240.89 L181.60,240.88 L181.85,240.88 L182.10,240.87 L182.35,240.87 L182.60,240.86 L182.85,240.85 L183.10,240.84 L183.35,240.83 L183.60,240.82 L183.85,240.81 L184.10,240.80 L184.35,240.79 L184.60,240.78 L184.85,240.77 L185.10,240.75 L185.35,240.74 L185.60,240.73 L185.85,240.71 L186.10,240.70 L186.35,240.68 L186.60,240.67 L186.85,240.65 L187.10,240.63 L187.35,240.62 L187.60,240.60 L187.85,240.58 L188.10,240.57 L188.35,240.55 L188.60,240.53 L188.85,240.51 L189.10,240.50 L189.35,240.48 L189.60,240.46 L189.85,240.44 L190.10,240.42 L190.35,240.40 L190.60,240.38 L190.85,240.36 L191.10,240.35 L191.35,240.33 L191.60,240.31 L191.85,240.29 L192.10,240.27 L192.35,240.25 L192.60,240.22 L192.85,240.20 L193.10,240.18 L193.35,240.15 L193.60,240.12 L193.85,240.09 L194.10,240.07 L194.35,240.04 L194.60,240.01 L194.85,239.97 L195.10,239.94 L195.35,239.91 L195.60,239.87 L195.85,239.84 L196.10,239.80 L196.35,239.77 L196.60,239.73 L196.85,239.69 L197.10,239.66 L197.35,239.62 L197.60,239.58 L197.85,239.54 L198.10,239.50 L198.35,239.46 L198.60,239.42 L198.85,239.37 L199.10,239.33 L199.35,239.29 L199.60,239.25 L199.85,239.21 L200.10,239.16 L200.35,239.12 L200.60,239.08 L200.85,239.03 L201.10,238.99 L201.35,238.94 L201.60,238.90 L201.85,238.86 L202.10,238.81 L202.35,238.76 L202.60,238.72 L202.85,238.67 L203.10,238.62 L203.35,238.57 L203.60,238.52 L203.85,238.47 L204.10,238.41 L204.35,238.36 L204.60,238.31 L204.85,238.25 L205.10,238.19 L205.35,238.14 L205.60,238.08 L205.85,238.02 L206.10,237.96 L206.35,237.90 L206.60,237.84 L206.85,237.78 L207.10,237.72 L207.35,237.66 L207.60,237.60 L207.85,237.53 L208.10,237.47 L208.35,237.40 L208.60,237.34 L208.85,237.27 L209.10,237.21 L209.35,237.14 L209.60,237.07 L209.85,237.00 L210.10,236.93 L210.35,236.86 L210.60,236.79 L210.85,236.71 L211.10,236.64 L211.35,236.56 L211.60,236.48 L211.85,236.40 L212.10,236.32 L212.35,236.24 L212.60,236.16 L212.85,236.08 L213.10,236.00 L213.35,235.91 L213.60,235.83 L213.85,235.74 L214.10,235.65 L214.35,235.57 L214.60,235.48 L214.85,235.39 L215.10,235.31 L215.35,235.22 L215.60,235.13 L215.85,235.04 L216.10,234.95 L216.35,234.87 L216.60,234.78 L216.85,234.69 L217.10,234.60 L217.35,234.52 L217.60,234.43 L217.85,234.34 L218.10,234.26 L218.35,234.17 L218.60,234.09 L218.85,234.00 L219.10,233.91 L219.35,233.83 L219.60,233.74 L219.85,233.65 L220.10,233.57 L220.35,233.48 L220.60,233.39 L220.85,233.31 L221.10,233.22 L221.35,233.13 L221.60,233.04 L221.85,232.95 L222.10,232.86 L222.35,232.76 L222.60,232.67 L222.85,232.58 L223.10,232.48 L223.35,232.39 L223.60,232.29 L223.85,232.19 L224.10,232.09 L224.35,231.99 L224.60,231.89 L224.85,231.79 L225.10,231.68 L225.35,231.58 L225.60,231.47 L225.85,231.36 L226.10,231.25 L226.35,231.14 L226.60,231.03 L226.85,230.91 L227.10,230.79 L227.35,230.67 L227.60,230.56 L227.85,230.43 L228.10,230.31 L228.35,230.19 L228.60,230.06 L228.85,229.94 L229.10,229.81 L229.35,229.68 L229.60,229.55 L229.85,229.42 L230.10,229.29 L230.35,229.16 L230.60,229.03 L230.85,228.89 L231.10,228.76 L231.35,228.62 L231.60,228.49 L231.85,228.35 L232.10,228.21 L232.35,228.08 L232.60,227.94 L232.85,227.80 L233.10,227.66 L233.35,227.52 L233.60,227.37 L233.85,227.23 L234.10,227.08 L234.35,226.94 L234.60,226.79 L234.85,226.64 L235.10,226.49 L235.35,226.33 L235.60,226.18 L235.85,226.03 L236.10,225.87 L236.35,225.71 L236.60,225.56 L236.85,225.40 L237.10,225.24 L237.35,225.08 L237.60,224.91 L237.85,224.75 L238.10,224.59 L238.35,224.43 L238.60,224.26 L238.85,224.10 L239.10,223.93 L239.35,223.77 L239.60,223.60 L239.85,223.43 L240.10,223.27 L240.35,223.10 L240.60,222.93 L240.85,222.77 L241.10,222.60 L241.35,222.43 L241.60,222.26 L241.85,222.08 L242.10,221.91 L242.35,221.73 L242.60,221.55 L242.85,221.36 L243.10,221.18 L243.35,220.99 L243.60,220.81 L243.85,220.63 L244.10,220.44 L244.35,220.26 L244.60,220.08 L244.85,219.90 L245.10,219.73 L245.35,219.55 L245.60,219.38 L245.85,219.22 L246.10,219.05 L246.35,218.89 L246.60,218.74 L246.85,218.58 L247.10,218.43 L247.35,218.28 L247.60,218.13 L247.85,217.98 L248.10,217.82 L248.35,217.68 L248.60,217.53 L248.85,217.38 L249.10,217.24 L249.35,217.10 L249.60,216.96 L249.85,216.82 L250.10,216.69 L250.35,216.56 L250.60,216.44 L250.85,216.31 L251.10,216.19 L251.35,216.08 L251.60,215.97 L251.85,215.86 L252.10,215.76 L252.35,215.66 L252.60,215.56 L252.85,215.46 L253.10,215.37 L253.35,215.28 L253.60,215.19 L253.85,215.11 L254.10,215.03 L254.35,214.96 L254.60,214.89 L254.85,214.83 L255.10,214.78 L255.35,214.73 L255.60,214.68 L255.85,214.63 L256.10,214.58 L256.35,214.54 L256.60,214.50 L256.85,214.46 L257.10,214.44 L257.35,214.42 L257.60,214.40 L257.85,214.40 L258.10,214.40 L258.35,214.41 L258.60,214.43 L258.85,214.44 L259.10,214.46 L259.35,214.48 L259.60,214.51 L259.85,214.53 L260.10,214.56 L260.35,214.58 L260.60,214.61 L260.85,214.64 L261.10,214.67 L261.35,214.70 L261.60,214.74 L261.85,214.78 L262.10,214.82 L262.35,214.86 L262.60,214.91 L262.85,214.95 L263.10,214.99 L263.35,215.04 L263.60,215.08 L263.85,215.13 L264.10,215.17 L264.35,215.22 L264.60,215.26 L264.85,215.31 L265.10,215.36 L265.35,215.40 L265.60,215.45 L265.85,215.50 L266.10,215.55 L266.35,215.60 L266.60,215.65 L266.85,215.70 L267.10,215.76 L267.35,215.81 L267.60,215.86 L267.85,215.91 L268.10,215.97 L268.35,216.02 L268.60,216.07 L268.85,216.12 L269.10,216.18 L269.35,216.23 L269.60,216.28 L269.85,216.34 L270.10,216.39 L270.35,216.44 L270.60,216.49 L270.85,216.55 L271.10,216.60 L271.35,216.65 L271.60,216.70 L271.85,216.75 L272.10,216.80 L272.35,216.85 L272.60,216.90 L272.85,216.96 L273.10,217.01 L273.35,217.06 L273.60,217.11 L273.85,217.16 L274.10,217.21 L274.35,217.27 L274.60,217.32 L274.85,217.37 L275.10,217.42 L275.35,217.47 L275.60,217.52 L275.85,217.58 L276.10,217.63 L276.35,217.68 L276.60,217.73 L276.85,217.78 L277.10,217.83 L277.35,217.88 L277.60,217.93 L277.85,217.98 L278.10,218.03 L278.35,218.08 L278.60,218.13 L278.85,218.18 L279.10,218.22 L279.35,218.27 L279.60,218.32 L279.85,218.37 L280.10,218.41 L280.35,218.46 L280.60,218.50 L280.85,218.55 L281.10,218.60 L281.35,218.64 L281.60,218.69 L281.85,218.73 L282.10,218.77 L282.35,218.82 L282.60,218.86 L282.85,218.91 L283.10,218.95 L283.35,218.99 L283.60,219.04 L283.85,219.08 L284.10,219.12 L284.35,219.17 L284.60,219.21 L284.85,219.25 L285.10,219.30 L285.35,219.34 L285.60,219.38 L285.85,219.43 L286.10,219.47 L286.35,219.52 L286.60,219.56 L286.85,219.60 L287.10,219.65 L287.35,219.69 L287.60,219.74 L287.85,219.78 L288.10,219.82 L288.35,219.87 L288.60,219.91 L288.85,219.95 L289.10,220.00 L289.35,220.04 L289.60,220.08 L289.85,220.13 L290.10,220.17 L290.35,220.21 L290.60,220.26 L290.85,220.30 L291.10,220.34 L291.35,220.39 L291.60,220.43 L291.85,220.48 L292.10,220.52 L292.35,220.56 L292.60,220.61 L292.85,220.65 L293.10,220.70 L293.35,220.74 L293.60,220.79 L293.85,220.83 L294.10,220.88 L294.35,220.92 L294.60,220.97 L294.85,221.02 L295.10,221.06 L295.35,221.11 L295.60,221.16 L295.85,221.20 L296.10,221.25 L296.35,221.30 L296.60,221.35 L296.85,221.40 L297.10,221.44 L297.35,221.49 L297.60,221.54 L297.85,221.59 L298.10,221.64 L298.35,221.69 L298.60,221.74 L298.85,221.79 L299.10,221.84 L299.35,221.89 L299.60,221.94 L299.85,221.99 L300.10,222.04 L300.35,222.09 L300.60,222.15 L300.85,222.20 L301.10,222.25 L301.35,222.30 L301.60,222.35 L301.85,222.41 L302.10,222.46 L302.35,222.51 L302.60,222.57 L302.85,222.62 L303.10,222.68 L303.35,222.73 L303.60,222.79 L303.85,222.84 L304.10,222.90 L304.35,222.95 L304.60,223.01 L304.85,223.06 L305.10,223.12 L305.35,223.17 L305.60,223.23 L305.85,223.28 L306.10,223.34 L306.35,223.39 L306.60,223.45 L306.85,223.51 L307.10,223.56 L307.35,223.62 L307.60,223.68 L307.85,223.74 L308.10,223.80 L308.35,223.86 L308.60,223.92 L308.85,223.99 L309.10,224.05 L309.35,224.12 L309.60,224.18 L309.85,224.25 L310.10,224.32 L310.35,224.39 L310.60,224.46 L310.85,224.53 L311.10,224.60 L311.35,224.67 L311.60,224.75 L311.85,224.83 L312.10,224.91 L312.35,224.99 L312.60,225.07 L312.85,225.15 L313.10,225.24 L313.35,225.33 L313.60,225.41 L313.85,225.50 L314.10,225.59 L314.35,225.68 L314.60,225.78 L314.85,225.87 L315.10,225.97 L315.35,226.06 L315.60,226.16 L315.85,226.26 L316.10,226.36 L316.35,226.46 L316.60,226.57 L316.85,226.67 L317.10,226.77 L317.35,226.88 L317.60,226.99 L317.85,227.09 L318.10,227.20 L318.35,227.31 L318.60,227.42 L318.85,227.53 L319.10,227.65 L319.35,227.76 L319.60,227.88 L319.85,228.01 L320.10,228.14 L320.35,228.27 L320.60,228.41 L320.85,228.55 L321.10,228.69 L321.35,228.83 L321.60,228.98 L321.85,229.12 L322.10,229.26 L322.35,229.41 L322.60,229.55 L322.85,229.69 L323.10,229.83 L323.35,229.97 L323.60,230.11 L323.85,230.24 L324.10,230.37 L324.35,230.49 L324.60,230.61 L324.85,230.72 L325.10,230.83 L325.35,230.95 L325.60,231.06 L325.85,231.17 L326.10,231.28 L326.35,231.39 L326.60,231.50 L326.85,231.61 L327.10,231.72 L327.35,231.83 L327.60,231.93 L327.85,232.04 L328.10,232.15 L328.35,232.25 L328.60,232.36 L328.85,232.46 L329.10,232.56 L329.35,232.66 L329.60,232.76 L329.85,232.86 L330.10,232.95 L330.35,233.05 L330.60,233.14 L330.85,233.24 L331.10,233.33 L331.35,233.42 L331.60,233.50 L331.85,233.59 L332.10,233.67 L332.35,233.76 L332.60,233.84 L332.85,233.91 L333.10,233.99 L333.35,234.06 L333.60,234.14 L333.85,234.21 L334.10,234.27 L334.35,234.34 L334.60,234.40 L334.85,234.46 L335.10,234.52 L335.35,234.58 L335.60,234.64 L335.85,234.70 L336.10,234.75 L336.35,234.81 L336.60,234.86 L336.85,234.92 L337.10,234.97 L337.35,235.02 L337.60,235.07 L337.85,235.12 L338.10,235.17 L338.35,235.22 L338.60,235.27 L338.85,235.32 L339.10,235.36 L339.35,235.41 L339.60,235.45 L339.85,235.50 L340.10,235.54 L340.35,235.58 L340.60,235.62 L340.85,235.67 L341.10,235.71 L341.35,235.75 L341.60,235.79 L341.85,235.83 L342.10,235.86 L342.35,235.90 L342.60,235.94 L342.85,235.97 L343.10,236.01 L343.35,236.05 L343.60,236.08 L343.85,236.11 L344.10,236.15 L344.35,236.18 L344.60,236.21 L344.85,236.24 L345.10,236.28 L345.35,236.31 L345.60,236.34 L345.85,236.36 L346.10,236.39 L346.35,236.42 L346.60,236.45 L346.85,236.47 L347.10,236.50 L347.35,236.52 L347.60,236.55 L347.85,236.57 L348.10,236.60 L348.35,236.62 L348.60,236.65 L348.85,236.67 L349.10,236.69 L349.35,236.72 L349.60,236.74 L349.85,236.76 L350.10,236.78 L350.35,236.81 L350.60,236.83 L350.85,236.85 L351.10,236.87 L351.35,236.90 L351.60,236.92 L351.85,236.94 L352.10,236.97 L352.35,236.99 L352.60,237.01 L352.85,237.04 L353.10,237.06 L353.35,237.09 L353.60,237.11 L353.85,237.14 L354.10,237.17 L354.35,237.19 L354.60,237.22 L354.85,237.25 L355.10,237.28 L355.35,237.31 L355.60,237.34 L355.85,237.36 L356.10,237.39 L356.35,237.42 L356.60,237.45 L356.85,237.48 L357.10,237.51 L357.35,237.54 L357.60,237.57 L357.85,237.60 L358.10,237.63 L358.35,237.66 L358.60,237.69 L358.85,237.72 L359.10,237.75 L359.35,237.79 L359.60,237.82 L359.85,237.85 L360.10,237.88 L360.35,237.91 L360.60,237.94 L360.85,237.97 L361.10,238.00 L361.35,238.03 L361.60,238.07 L361.85,238.10 L362.10,238.13 L362.35,238.16 L362.60,238.19 L362.85,238.22 L363.10,238.25 L363.35,238.28 L363.60,238.31 L363.85,238.34 L364.10,238.38 L364.35,238.41 L364.60,238.44 L364.85,238.47 L365.10,238.50 L365.35,238.53 L365.60,238.56 L365.85,238.59 L366.10,238.62 L366.35,238.65 L366.60,238.68 L366.85,238.71 L367.10,238.75 L367.35,238.78 L367.60,238.81 L367.85,238.84 L368.10,238.87 L368.35,238.90 L368.60,238.93 L368.85,238.96 L369.10,239.00 L369.35,239.03 L369.60,239.06 L369.85,239.09 L370.10,239.12 L370.35,239.15 L370.60,239.18 L370.85,239.21 L371.10,239.24 L371.35,239.27 L371.60,239.30 L371.85,239.33 L372.10,239.36 L372.35,239.39 L372.60,239.42 L372.85,239.45 L373.10,239.48 L373.35,239.51 L373.60,239.54 L373.85,239.57 L374.10,239.60 L374.35,239.63 L374.60,239.66 L374.85,239.69 L375.10,239.71 L375.35,239.74 L375.60,239.77 L375.85,239.80 L376.10,239.83 L376.35,239.86 L376.60,239.88 L376.85,239.91 L377.10,239.94 L377.35,239.97 L377.60,239.99 L377.85,240.02 L378.10,240.05 L378.35,240.08 L378.60,240.10 L378.85,240.13 L379.10,240.16 L379.35,240.19 L379.60,240.21 L379.85,240.24 L380.10,240.27 L380.35,240.29 L380.60,240.32 L380.85,240.35 L381.10,240.37 L381.35,240.40 L381.60,240.42 L381.85,240.45 L382.10,240.48 L382.35,240.50 L382.60,240.53 L382.85,240.55 L383.10,240.58 L383.30,240.60 L383.30,240.90 L41.10,240.90 Z" fill="#CC79A7" fill-opacity="0.5" stroke="none"/>
<path d="M41.10,240.90 L179.85,240.90 L180.10,240.90 L180.35,240.90 L180.60,240.90 L180.85,240.90 L181.10,240.89 L181.35,240.89 L181.60,240.88 L181.85,240.88 L182.10,240.87 L182.35,240.87 L182.60,240.86 L182.85,240.85 L183.10,240.84 L183.35,240.83 L183.60,240.82 L183.85,240.81 L184.10,240.80 L184.35,240.79 L184.60,240.78 L184.85,240.77 L185.10,240.75 L185.35,240.74 L185.60,240.73 L185.85,240.71 L186.10,240.70 L186.35,240.68 L186.60,240.67 L186.85,240.65 L187.10,240.63 L187.35,240.62 L187.60,240.60 L187.85,240.58 L188.10,240.57 L188.35,240.55 L188.60,240.53 L188.85,240.51 L189.10,240.50 L189.35,240.48 L189.60,240.46 L189.85,240.44 L190.10,240.42 L190.35,240.40 L190.60,240.38 L190.85,240.36 L191.10,240.35 L191.35,240.33 L191.60,240.31 L191.85,240.29 L192.10,240.27 L192.35,240.25 L192.60,240.22 L192.85,240.20 L193.10,240.18 L193.35,240.15 L193.60,240.12 L193.85,240.09 L194.10,240.07 L194.35,240.04 L194.60,240.01 L194.85,239.97 L195.10,239.94 L195.35,239.91 L195.60,239.87 L195.85,239.84 L196.10,239.80 L196.35,239.77 L196.60,239.73 L196.85,239.69 L197.10,239.66 L197.35,239.62 L197.60,239.58 L197.85,239.54 L198.10,239.50 L198.35,239.46 L198.60,239.42 L198.85,239.37 L199.10,239.33 L199.35,239.29 L199.60,239.25 L199.85,239.21 L200.10,239.16 L200.35,239.12 L200.60,239.08 L200.85,239.03 L201.10,238.99 L201.35,238.94 L201.60,238.90 L201.85,238.86 L202.10,238.81 L202.35,238.76 L202.60,238.72 L202.85,238.67 L203.10,238.62 L203.35,238.57 L203.60,238.52 L203.85,238.47 L204.10,238.41 L204.35,238.36 L204.60,238.31 L204.85,238.25 L205.10,238.19 L205.35,238.14 L205.60,238.08 L205.85,238.02 L206.10,237.96 L206.35,237.90 L206.60,237.84 L206.85,237.78 L207.10,237.72 L207.35,237.66 L207.60,237.60 L207.85,237.53 L208.10,237.47 L208.35,237.40 L208.60,237.34 L208.85,237.27 L209.10,237.21 L209.35,237.14 L209.60,237.07 L209.85,237.00 L210.10,236.93 L210.35,236.86 L210.60,236.79 L210.85,236.71 L211.10,236.64 L211.35,236.56 L211.60,236.48 L211.85,236.40 L212.10,236.32 L212.35,236.24 L212.60,236.16 L212.85,236.08 L213.10,236.00 L213.35,235.91 L213.60,235.83 L213.85,235.74 L214.10,235.65 L214.35,235.57 L214.60,235.48 L214.85,235.39 L215.10,235.31 L215.35,235.22 L215.60,235.13 L215.85,235.04 L216.10,234.95 L216.35,234.87 L216.60,234.78 L216.85,234.69 L217.10,234.60 L217.35,234.52 L217.60,234.43 L217.85,234.34 L218.10,234.26 L218.35,234.17 L218.60,234.09 L218.85,234.00 L219.10,233.91 L219.35,233.83 L219.60,233.74 L219.85,233.65 L220.10,233.57 L220.35,233.48 L220.60,233.39 L220.85,233.31 L221.10,233.22 L221.35,233.13 L221.60,233.04 L221.85,232.95 L222.10,232.86 L222.35,232.76 L222.60,232.67 L222.85,232.58 L223.10,232.48 L223.35,232.39 L223.60,232.29 L223.85,232.19 L224.10,232.09 L224.35,231.99 L224.60,231.89 L224.85,231.79 L225.10,231.68 L225.35,231.58 L225.60,231.47 L225.85,231.36 L226.10,231.25 L226.35,231.14 L226.60,231.03 L226.85,230.91 L227.10,230.79 L227.35,230.67 L227.60,230.56 L227.85,230.43 L228.10,230.31 L228.35,230.19 L228.60,230.06 L228.85,229.94 L229.10,229.81 L229.35,229.68 L229.60,229.55 L229.85,229.42 L230.10,229.29 L230.35,229.16 L230.60,229.03 L230.85,228.89 L231.10,228.76 L231.35,228.62 L231.60,228.49 L231.85,228.35 L232.10,228.21 L232.35,228.08 L232.60,227.94 L232.85,227.80 L233.10,227.66 L233.35,227.52 L233.60,227.37 L233.85,227.23 L234.10,227.08 L234.35,226.94 L234.60,226.79 L234.85,226.64 L235.10,226.49 L235.35,226.33 L235.60,226.18 L235.85,226.03 L236.10,225.87 L236.35,225.71 L236.60,225.56 L236.85,225.40 L237.10,225.24 L237.35,225.08 L237.60,224.91 L237.85,224.75 L238.10,224.59 L238.35,224.43 L238.60,224.26 L238.85,224.10 L239.10,223.93 L239.35,223.77 L239.60,223.60 L239.85,223.43 L240.10,223.27 L240.35,223.10 L240.60,222.93 L240.85,222.77 L241.10,222.60 L241.35,222.43 L241.60,222.26 L241.85,222.08 L242.10,221.91 L242.35,221.73 L242.60,221.55 L242.85,221.36 L243.10,221.18 L243.35,220.99 L243.60,220.81 L243.85,220.63 L244.10,220.44 L244.35,220.26 L244.60,220.08 L244.85,219.90 L245.10,219.73 L245.35,219.55 L245.60,219.38 L245.85,219.22 L246.10,219.05 L246.35,218.89 L246.60,218.74 L246.85,218.58 L247.10,218.43 L247.35,218.28 L247.60,218.13 L247.85,217.98 L248.10,217.82 L248.35,217.68 L248.60,217.53 L248.85,217.38 L249.10,217.24 L249.35,217.10 L249.60,216.96 L249.85,216.82 L250.10,216.69 L250.35,216.56 L250.60,216.44 L250.85,216.31 L251.10,216.19 L251.35,216.08 L251.60,215.97 L251.85,215.86 L252.10,215.76 L252.35,215.66 L252.60,215.56 L252.85,215.46 L253.10,215.37 L253.35,215.28 L253.60,215.19 L253.85,215.11 L254.10,215.03 L254.35,214.96 L254.60,214.89 L254.85,214.83 L255.10,214.78 L255.35,214.73 L255.60,214.68 L255.85,214.63 L256.10,214.58 L256.35,214.54 L256.60,214.50 L256.85,214.46 L257.10,214.44 L257.35,214.42 L257.60,214.40 L257.85,214.40 L258.10,214.40 L258.35,214.41 L258.60,214.43 L258.85,214.44 L259.10,214.46 L259.35,214.48 L259.60,214.51 L259.85,214.53 L260.10,214.56 L260.35,214.58 L260.60,214.61 L260.85,214.64 L261.10,214.67 L261.35,214.70 L261.60,214.74 L261.85,214.78 L262.10,214.82 L262.35,214.86 L262.60,214.91 L262.85,214.95 L263.10,214.99 L263.35,215.04 L263.60,215.08 L263.85,215.13 L264.10,215.17 L264.35,215.22 L264.60,215.26 L264.85,215.31 L265.10,215.36 L265.35,215.40 L265.60,215.45 L265.85,215.50 L266.10,215.55 L266.35,215.60 L266.60,215.65 L266.85,215.70 L267.10,215.76 L267.35,215.81 L267.60,215.86 L267.85,215.91 L268.10,215.97 L268.35,216.02 L268.60,216.07 L268.85,216.12 L269.10,216.18 L269.35,216.23 L269.60,216.28 L269.85,216.34 L270.10,216.39 L270.35,216.44 L270.60,216.49 L270.85,216.55 L271.10,216.60 L271.35,216.65 L271.60,216.70 L271.85,216.75 L272.10,216.80 L272.35,216.85 L272.60,216.90 L272.85,216.96 L273.10,217.01 L273.35,217.06 L273.60,217.11 L273.85,217.16 L274.10,217.21 L274.35,217.27 L274.60,217.32 L274.85,217.37 L275.10,217.42 L275.35,217.47 L275.60,217.52 L275.85,217.58 L276.10,217.63 L276.35,217.68 L276.60,217.73 L276.85,217.78 L277.10,217.83 L277.35,217.88 L277.60,217.93 L277.85,217.98 L278.10,218.03 L278.35,218.08 L278.60,218.13 L278.85,218.18 L279.10,218.22 L279.35,218.27 L279.60,218.32 L279.85,218.37 L280.10,218.41 L280.35,218.46 L280.60,218.50 L280.85,218.55 L281.10,218.60 L281.35,218.64 L281.60,218.69 L281.85,218.73 L282.10,218.77 L282.35,218.82 L282.60,218.86 L282.85,218.91 L283.10,218.95 L283.35,218.99 L283.60,219.04 L283.85,219.08 L284.10,219.12 L284.35,219.17 L284.60,219.21 L284.85,219.25 L285.10,219.30 L285.35,219.34 L285.60,219.38 L285.85,219.43 L286.10,219.47 L286.35,219.52 L286.60,219.56 L286.85,219.60 L287.10,219.65 L287.35,219.69 L287.60,219.74 L287.85,219.78 L288.10,219.82 L288.35,219.87 L288.60,219.91 L288.85,219.95 L289.10,220.00 L289.35,220.04 L289.60,220.08 L289.85,220.13 L290.10,220.17 L290.35,220.21 L290.60,220.26 L290.85,220.30 L291.10,220.34 L291.35,220.39 L291.60,220.43 L291.85,220.48 L292.10,220.52 L292.35,220.56 L292.60,220.61 L292.85,220.65 L293.10,220.70 L293.35,220.74 L293.60,220.79 L293.85,220.83 L294.10,220.88 L294.35,220.92 L294.60,220.97 L294.85,221.02 L295.10,221.06 L295.35,221.11 L295.60,221.16 L295.85,221.20 L296.10,221.25 L296.35,221.30 L296.60,221.35 L296.85,221.40 L297.10,221.44 L297.35,221.49 L297.60,221.54 L297.85,221.59 L298.10,221.64 L298.35,221.69 L298.60,221.74 L298.85,221.79 L299.10,221.84 L299.35,221.89 L299.60,221.94 L299.85,221.99 L300.10,222.04 L300.35,222.09 L300.60,222.15 L300.85,222.20 L301.10,222.25 L301.35,222.30 L301.60,222.35 L301.85,222.41 L302.10,222.46 L302.35,222.51 L302.60,222.57 L302.85,222.62 L303.10,222.68 L303.35,222.73 L303.60,222.79 L303.85,222.84 L304.10,222.90 L304.35,222.95 L304.60,223.01 L304.85,223.06 L305.10,223.12 L305.35,223.17 L305.60,223.23 L305.85,223.28 L306.10,223.34 L306.35,223.39 L306.60,223.45 L306.85,223.51 L307.10,223.56 L307.35,223.62 L307.60,223.68 L307.85,223.74 L308.10,223.80 L308.35,223.86 L308.60,223.92 L308.85,223.99 L309.10,224.05 L309.35,224.12 L309.60,224.18 L309.85,224.25 L310.10,224.32 L310.35,224.39 L310.60,224.46 L310.85,224.53 L311.10,224.60 L311.35,224.67 L311.60,224.75 L311.85,224.83 L312.10,224.91 L312.35,224.99 L312.60,225.07 L312.85,225.15 L313.10,225.24 L313.35,225.33 L313.60,225.41 L313.85,225.50 L314.10,225.59 L314.35,225.68 L314.60,225.78 L314.85,225.87 L315.10,225.97 L315.35,226.06 L315.60,226.16 L315.85,226.26 L316.10,226.36 L316.35,226.46 L316.60,226.57 L316.85,226.67 L317.10,226.77 L317.35,226.88 L317.60,226.99 L317.85,227.09 L318.10,227.20 L318.35,227.31 L318.60,227.42 L318.85,227.53 L319.10,227.65 L319.35,227.76 L319.60,227.88 L319.85,228.01 L320.10,228.14 L320.35,228.27 L320.60,228.41 L320.85,228.55 L321.10,228.69 L321.35,228.83 L321.60,228.98 L321.85,229.12 L322.10,229.26 L322.35,229.41 L322.60,229.55 L322.85,229.69 L323.10,229.83 L323.35,229.97 L323.60,230.11 L323.85,230.24 L324.10,230.37 L324.35,230.49 L324.60,230.61 L324.85,230.72 L325.10,230.83 L325.35,230.95 L325.60,231.06 L325.85,231.17 L326.10,231.28 L326.35,231.39 L326.60,231.50 L326.85,231.61 L327.10,231.72 L327.35,231.83 L327.60,231.93 L327.85,232.04 L328.10,232.15 L328.35,232.25 L328.60,232.36 L328.85,232.46 L329.10,232.56 L329.35,232.66 L329.60,232.76 L329.85,232.86 L330.10,232.95 L330.35,233.05 L330.60,233.14 L330.85,233.24 L331.10,233.33 L331.35,233.42 L331.60,233.50 L331.85,233.59 L332.10,233.67 L332.35,233.76 L332.60,233.84 L332.85,233.91 L333.10,233.99 L333.35,234.06 L333.60,234.14 L333.85,234.21 L334.10,234.27 L334.35,234.34 L334.60,234.40 L334.85,234.46 L335.10,234.52 L335.35,234.58 L335.60,234.64 L335.85,234.70 L336.10,234.75 L336.35,234.81 L336.60,234.86 L336.85,234.92 L337.10,234.97 L337.35,235.02 L337.60,235.07 L337.85,235.12 L338.10,235.17 L338.35,235.22 L338.60,235.27 L338.85,235.32 L339.10,235.36 L339.35,235.41 L339.60,235.45 L339.85,235.50 L340.10,235.54 L340.35,235.58 L340.60,235.62 L340.85,235.67 L341.10,235.71 L341.35,235.75 L341.60,235.79 L341.85,235.83 L342.10,235.86 L342.35,235.90 L342.60,235.94 L342.85,235.97 L343.10,236.01 L343.35,236.05 L343.60,236.08 L343.85,236.11 L344.10,236.15 L344.35,236.18 L344.60,236.21 L344.85,236.24 L345.10,236.28 L345.35,236.31 L345.60,236.34 L345.85,236.36 L346.10,236.39 L346.35,236.42 L346.60,236.45 L346.85,236.47 L347.10,236.50 L347.35,236.52 L347.60,236.55 L347.85,236.57 L348.10,236.60 L348.35,236.62 L348.60,236.65 L348.85,236.67 L349.10,236.69 L349.35,236.72 L349.60,236.74 L349.85,236.76 L350.10,236.78 L350.35,236.81 L350.60,236.83 L350.85,236.85 L351.10,236.87 L351.35,236.90 L351.60,236.92 L351.85,236.94 L352.10,236.97 L352.35,236.99 L352.60,237.01 L352.85,237.04 L353.10,237.06 L353.35,237.09 L353.60,237.11 L353.85,237.14 L354.10,237.17 L354.35,237.19 L354.60,237.22 L354.85,237.25 L355.10,237.28 L355.35,237.31 L355.60,237.34 L355.85,237.36 L356.10,237.39 L356.35,237.42 L356.60,237.45 L356.85,237.48 L357.10,237.51 L357.35,237.54 L357.60,237.57 L357.85,237.60 L358.10,237.63 L358.35,237.66 L358.60,237.69 L358.85,237.72 L359.10,237.75 L359.35,237.79 L359.60,237.82 L359.85,237.85 L360.10,237.88 L360.35,237.91 L360.60,237.94 L360.85,237.97 L361.10,238.00 L361.35,238.03 L361.60,238.07 L361.85,238.10 L362.10,238.13 L362.35,238.16 L362.60,238.19 L362.85,238.22 L363.10,238.25 L363.35,238.28 L363.60,238.31 L363.85,238.34 L364.10,238.38 L364.35,238.41 L364.60,238.44 L364.85,238.47 L365.10,238.50 L365.35,238.53 L365.60,238.56 L365.85,238.59 L366.10,238.62 L366.35,238.65 L366.60,238.68 L366.85,238.71 L367.10,238.75 L367.35,238.78 L367.60,238.81 L367.85,238.84 L368.10,238.87 L368.35,238.90 L368.60,238.93 L368.85,238.96 L369.10,239.00 L369.35,239.03 L369.60,239.06 L369.85,239.09 L370.10,239.12 L370.35,239.15 L370.60,239.18 L370.85,239.21 L371.10,239.24 L371.35,239.27 L371.60,239.30 L371.85,239.33 L372.10,239.36 L372.35,239.39 L372.60,239.42 L372.85,239.45 L373.10,239.48 L373.35,239.51 L373.60,239.54 L373.85,239.57 L374.10,239.60 L374.35,239.63 L374.60,239.66 L374.85,239.69 L375.10,239.71 L375.35,239.74 L375.60,239.77 L375.85,239.80 L376.10,239.83 L376.35,239.86 L376.60,239.88 L376.85,239.91 L377.10,239.94 L377.35,239.97 L377.60,239.99 L377.85,240.02 L378.10,240.05 L378.35,240.08 L378.60,240.10 L378.85,240.13 L379.10,240.16 L379.35,240.19 L379.60,240.21 L379.85,240.24 L380.10,240.27 L380.35,240.29 L380.60,240.32 L380.85,240.35 L381.10,240.37 L381.35,240.40 L381.60,240.42 L381.85,240.45 L382.10,240.48 L382.35,240.50 L382.60,240.53 L382.85,240.55 L383.10,240.58 L383.30,240.60" fill="none" stroke="#000" stroke-width="1.3" stroke-linejoin="round"/>
<g class="t">
<text x="20.7" y="243.85" font-size="8.2" text-anchor="end">0</text>
<text x="20.7" y="187.92" font-size="8.2" text-anchor="end">10</text>
<text x="20.7" y="131.99" font-size="8.2" text-anchor="end">20</text>
<text x="20.7" y="76.06" font-size="8.2" text-anchor="end">30</text>
<text x="40.80" y="260.7" font-size="8.2" text-anchor="middle">0.0</text>
<text x="126.48" y="260.7" font-size="8.2" text-anchor="middle">0.2</text>
<text x="212.16" y="260.7" font-size="8.2" text-anchor="middle">0.4</text>
<text x="297.84" y="260.7" font-size="8.2" text-anchor="middle">0.6</text>
<text x="383.52" y="260.7" font-size="8.2" text-anchor="middle">0.8</text>
</g>
<text x="212.3" y="270.8" font-size="10.25" text-anchor="middle">Fisher Information</text>
<text transform="translate(11.3,141.6) rotate(-90)" font-size="10.25" text-anchor="middle">Empirical Densities</text>
<line x1="69.15" x2="69.15" y1="273" y2="525" stroke="#f2f2f2" stroke-width="0.6"/>
<line x1="126.85" x2="126.85" y1="273" y2="525" stroke="#f2f2f2" stroke-width="0.6"/>
<line x1="184.55" x2="184.55" y1="273" y2="525" stroke="#f2f2f2" stroke-width="0.6"/>
<line x1="242.25" x2="242.25" y1="273" y2="525" stroke="#f2f2f2" stroke-width="0.6"/>
<line x1="299.95" x2="299.95" y1="273" y2="525" stroke="#f2f2f2" stroke-width="0.6"/>
<line x1="357.65" x2="357.65" y1="273" y2="525" stroke="#f2f2f2" stroke-width="0.6"/>
<line y1="480.36" y2="480.36" x1="24.7" x2="400.5" stroke="#f2f2f2" stroke-width="0.6"/>
<line y1="424.68" y2="424.68" x1="24.7" x2="400.5" stroke="#f2f2f2" stroke-width="0.6"/>
<line y1="369.00" y2="369.00" x1="24.7" x2="400.5" stroke="#f2f2f2" stroke-width="0.6"/>
<line y1="313.32" y2="313.32" x1="24.7" x2="400.5" stroke="#f2f2f2" stroke-width="0.6"/>
<line x1="40.30" x2="40.30" y1="273" y2="525" stroke="#b8b8b8" stroke-width="0.8" stroke-dasharray="1.1 1.8"/>
<line x1="98.00" x2="98.00" y1="273" y2="525" stroke="#b8b8b8" stroke-width="0.8" stroke-dasharray="1.1 1.8"/>
<line x1="155.70" x2="155.70" y1="273" y2="525" stroke="#b8b8b8" stroke-width="0.8" stroke-dasharray="1.1 1.8"/>
<line x1="213.40" x2="213.40" y1="273" y2="525" stroke="#b8b8b8" stroke-width="0.8" stroke-dasharray="1.1 1.8"/>
<line x1="271.10" x2="271.10" y1="273" y2="525" stroke="#b8b8b8" stroke-width="0.8" stroke-dasharray="1.1 1.8"/>
<line x1="328.80" x2="328.80" y1="273" y2="525" stroke="#b8b8b8" stroke-width="0.8" stroke-dasharray="1.1 1.8"/>
<line x1="386.50" x2="386.50" y1="273" y2="525" stroke="#b8b8b8" stroke-width="0.8" stroke-dasharray="1.1 1.8"/>
<line y1="508.20" y2="508.20" x1="24.7" x2="400.5" stroke="#b8b8b8" stroke-width="0.8" stroke-dasharray="1.1 1.8"/>
<line y1="452.52" y2="452.52" x1="24.7" x2="400.5" stroke="#b8b8b8" stroke-width="0.8" stroke-dasharray="1.1 1.8"/>
<line y1="396.84" y2="396.84" x1="24.7" x2="400.5" stroke="#b8b8b8" stroke-width="0.8" stroke-dasharray="1.1 1.8"/>
<line y1="341.16" y2="341.16" x1="24.7" x2="400.5" stroke="#b8b8b8" stroke-width="0.8" stroke-dasharray="1.1 1.8"/>
<line y1="285.48" y2="285.48" x1="24.7" x2="400.5" stroke="#b8b8b8" stroke-width="0.8" stroke-dasharray="1.1 1.8"/>
<g fill="#F0E442" fill-opacity="0.5" stroke="#F0E442" stroke-opacity="0.5" stroke-width="0.6">
<circle cx="44.0" cy="507.5" r="1.78"/><circle cx="64.8" cy="507.5" r="1.78"/><circle cx="75.3" cy="507.5" r="1.78"/><circle cx="82.5" cy="507.4" r="1.78"/><circle cx="88.2" cy="507.4" r="1.78"/><circle cx="92.8" cy="507.3" r="1.78"/><circle cx="96.8" cy="507.3" r="1.78"/><circle cx="100.3" cy="507.0" r="1.78"/><circle cx="103.4" cy="507.0" r="1.78"/><circle cx="106.3" cy="507.0" r="1.78"/><circle cx="108.9" cy="506.8" r="1.78"/><circle cx="111.3" cy="506.8" r="1.78"/><circle cx="113.5" cy="506.6" r="1.78"/><circle cx="115.6" cy="506.4" r="1.78"/><circle cx="117.5" cy="506.1" r="1.78"/><circle cx="119.4" cy="506.1" r="1.78"/><circle cx="121.2" cy="506.1" r="1.78"/><circle cx="122.9" cy="506.1" r="1.78"/><circle cx="124.5" cy="506.1" r="1.78"/><circle cx="126.0" cy="506.1" r="1.78"/><circle cx="127.5" cy="506.1" r="1.78"/><circle cx="129.0" cy="506.1" r="1.78"/><circle cx="130.3" cy="506.1" r="1.78"/><circle cx="131.7" cy="506.1" r="1.78"/><circle cx="133.0" cy="505.9" r="1.78"/><circle cx="134.2" cy="505.9" r="1.78"/><circle cx="135.4" cy="505.9" r="1.78"/><circle cx="136.6" cy="505.9" r="1.78"/><circle cx="137.8" cy="505.9" r="1.78"/><circle cx="138.9" cy="505.9" r="1.78"/><circle cx="140.0" cy="505.9" r="1.78"/><circle cx="141.1" cy="505.9" r="1.78"/><circle cx="142.1" cy="505.9" r="1.78"/><circle cx="143.1" cy="505.9" r="1.78"/><circle cx="144.1" cy="505.9" r="1.78"/><circle cx="145.1" cy="505.9" r="1.78"/><circle cx="146.1" cy="505.8" r="1.78"/><circle cx="147.0" cy="505.8" r="1.78"/><circle cx="148.0" cy="505.8" r="1.78"/><circle cx="148.9" cy="505.7" r="1.78"/><circle cx="149.8" cy="505.7" r="1.78"/><circle cx="150.6" cy="505.7" r="1.78"/><circle cx="151.5" cy="505.7" r="1.78"/><circle cx="152.3" cy="505.7" r="1.78"/><circle cx="153.2" cy="505.7" r="1.78"/><circle cx="154.0" cy="505.7" r="1.78"/><circle cx="154.8" cy="505.7" r="1.78"/><circle cx="155.6" cy="505.7" r="1.78"/><circle cx="156.4" cy="505.5" r="1.78"/><circle cx="157.2" cy="505.5" r="1.78"/><circle cx="158.0" cy="505.5" r="1.78"/><circle cx="158.7" cy="505.5" r="1.78"/><circle cx="159.5" cy="505.5" r="1.78"/><circle cx="160.2" cy="505.5" r="1.78"/><circle cx="160.9" cy="505.5" r="1.78"/><circle cx="161.7" cy="505.4" r="1.78"/><circle cx="162.4" cy="505.3" r="1.78"/><circle cx="163.1" cy="505.0" r="1.78"/><circle cx="163.8" cy="505.0" r="1.78"/><circle cx="164.5" cy="504.9" r="1.78"/><circle cx="165.2" cy="504.9" r="1.78"/><circle cx="165.9" cy="504.9" r="1.78"/><circle cx="166.5" cy="504.9" r="1.78"/><circle cx="167.2" cy="504.9" r="1.78"/><circle cx="167.9" cy="504.9" r="1.78"/><circle cx="168.5" cy="504.7" r="1.78"/><circle cx="169.2" cy="504.5" r="1.78"/><circle cx="169.8" cy="504.5" r="1.78"/><circle cx="170.5" cy="504.5" r="1.78"/><circle cx="171.1" cy="504.5" r="1.78"/><circle cx="171.7" cy="504.5" r="1.78"/><circle cx="172.3" cy="504.5" r="1.78"/><circle cx="173.0" cy="504.5" r="1.78"/><circle cx="173.6" cy="504.5" r="1.78"/><circle cx="174.2" cy="504.5" r="1.78"/><circle cx="174.8" cy="504.5" r="1.78"/><circle cx="175.4" cy="504.5" r="1.78"/><circle cx="176.0" cy="504.5" r="1.78"/><circle cx="176.6" cy="504.4" r="1.78"/><circle cx="177.2" cy="504.3" r="1.78"/><circle cx="177.7" cy="504.3" r="1.78"/><circle cx="178.3" cy="504.2" r="1.78"/><circle cx="178.9" cy="504.2" r="1.78"/><circle cx="179.5" cy="504.2" r="1.78"/><circle cx="180.1" cy="504.2" r="1.78"/><circle cx="180.6" cy="504.2" r="1.78"/><circle cx="181.2" cy="504.2" r="1.78"/><circle cx="181.8" cy="504.2" r="1.78"/><circle cx="182.3" cy="504.2" r="1.78"/><circle cx="182.9" cy="504.2" r="1.78"/><circle cx="183.4" cy="504.2" r="1.78"/><circle cx="184.0" cy="504.2" r="1.78"/><circle cx="184.5" cy="503.9" r="1.78"/><circle cx="185.1" cy="503.6" r="1.78"/><circle cx="185.6" cy="503.5" r="1.78"/><circle cx="186.1" cy="503.5" r="1.78"/><circle cx="186.7" cy="503.5" r="1.78"/><circle cx="187.2" cy="503.5" r="1.78"/><circle cx="187.8" cy="503.5" r="1.78"/><circle cx="188.3" cy="503.5" r="1.78"/><circle cx="188.8" cy="503.5" r="1.78"/><circle cx="189.3" cy="503.5" r="1.78"/><circle cx="189.9" cy="503.5" r="1.78"/><circle cx="190.4" cy="503.5" r="1.78"/><circle cx="190.9" cy="503.5" r="1.78"/><circle cx="191.4" cy="503.5" r="1.78"/><circle cx="191.9" cy="503.5" r="1.78"/><circle cx="192.5" cy="503.5" r="1.78"/><circle cx="193.0" cy="503.5" r="1.78"/><circle cx="193.5" cy="503.5" r="1.78"/><circle cx="194.0" cy="503.5" r="1.78"/><circle cx="194.5" cy="503.5" r="1.78"/><circle cx="195.0" cy="503.5" r="1.78"/><circle cx="195.5" cy="503.5" r="1.78"/><circle cx="196.0" cy="503.5" r="1.78"/><circle cx="196.5" cy="503.5" r="1.78"/><circle cx="197.0" cy="503.5" r="1.78"/><circle cx="197.5" cy="503.4" r="1.78"/><circle cx="198.0" cy="503.3" r="1.78"/><circle cx="198.5" cy="503.3" r="1.78"/><circle cx="199.0" cy="503.1" r="1.78"/><circle cx="199.5" cy="503.1" r="1.78"/><circle cx="200.0" cy="503.1" r="1.78"/><circle cx="200.5" cy="503.1" r="1.78"/><circle cx="201.0" cy="503.1" r="1.78"/><circle cx="201.5" cy="503.1" r="1.78"/><circle cx="202.0" cy="503.1" r="1.78"/><circle cx="202.5" cy="503.1" r="1.78"/><circle cx="203.0" cy="503.1" r="1.78"/><circle cx="203.5" cy="503.1" r="1.78"/><circle cx="204.0" cy="503.1" r="1.78"/><circle cx="204.4" cy="503.1" r="1.78"/><circle cx="204.9" cy="503.1" r="1.78"/><circle cx="205.4" cy="503.1" r="1.78"/><circle cx="205.9" cy="503.1" r="1.78"/><circle cx="206.4" cy="503.1" r="1.78"/><circle cx="206.9" cy="503.1" r="1.78"/><circle cx="207.4" cy="503.0" r="1.78"/><circle cx="207.8" cy="503.0" r="1.78"/><circle cx="208.3" cy="502.7" r="1.78"/><circle cx="208.8" cy="502.7" r="1.78"/><circle cx="209.3" cy="502.7" r="1.78"/><circle cx="209.8" cy="502.7" r="1.78"/><circle cx="210.3" cy="502.7" r="1.78"/><circle cx="210.7" cy="502.7" r="1.78"/><circle cx="211.2" cy="502.7" r="1.78"/><circle cx="211.7" cy="502.7" r="1.78"/><circle cx="212.2" cy="502.6" r="1.78"/><circle cx="212.7" cy="502.5" r="1.78"/><circle cx="213.2" cy="502.5" r="1.78"/><circle cx="213.6" cy="502.4" r="1.78"/><circle cx="214.1" cy="502.3" r="1.78"/><circle cx="214.6" cy="502.3" r="1.78"/><circle cx="215.1" cy="502.3" r="1.78"/><circle cx="215.6" cy="502.3" r="1.78"/><circle cx="216.1" cy="502.3" r="1.78"/><circle cx="216.5" cy="502.3" r="1.78"/><circle cx="217.0" cy="502.2" r="1.78"/><circle cx="217.5" cy="502.2" r="1.78"/><circle cx="218.0" cy="502.2" r="1.78"/><circle cx="218.5" cy="502.0" r="1.78"/><circle cx="219.0" cy="501.9" r="1.78"/><circle cx="219.4" cy="501.9" r="1.78"/><circle cx="219.9" cy="501.9" r="1.78"/><circle cx="220.4" cy="501.9" r="1.78"/><circle cx="220.9" cy="501.9" r="1.78"/><circle cx="221.4" cy="501.9" r="1.78"/><circle cx="221.9" cy="501.9" r="1.78"/><circle cx="222.4" cy="501.8" r="1.78"/><circle cx="222.8" cy="501.7" r="1.78"/><circle cx="223.3" cy="501.7" r="1.78"/><circle cx="223.8" cy="501.7" r="1.78"/><circle cx="224.3" cy="501.7" r="1.78"/><circle cx="224.8" cy="501.7" r="1.78"/><circle cx="225.3" cy="501.7" r="1.78"/><circle cx="225.8" cy="501.6" r="1.78"/><circle cx="226.3" cy="501.6" r="1.78"/><circle cx="226.8" cy="501.5" r="1.78"/><circle cx="227.3" cy="501.5" r="1.78"/><circle cx="227.8" cy="501.5" r="1.78"/><circle cx="228.3" cy="501.5" r="1.78"/><circle cx="228.8" cy="501.5" r="1.78"/><circle cx="229.3" cy="501.5" r="1.78"/><circle cx="229.8" cy="501.5" r="1.78"/><circle cx="230.3" cy="501.3" r="1.78"/><circle cx="230.8" cy="501.3" r="1.78"/><circle cx="231.3" cy="501.3" r="1.78"/><circle cx="231.8" cy="501.2" r="1.78"/><circle cx="232.3" cy="501.2" r="1.78"/><circle cx="232.8" cy="501.2" r="1.78"/><circle cx="233.3" cy="501.2" r="1.78"/><circle cx="233.8" cy="501.2" r="1.78"/><circle cx="234.3" cy="501.2" r="1.78"/><circle cx="234.9" cy="501.2" r="1.78"/><circle cx="235.4" cy="501.0" r="1.78"/><circle cx="235.9" cy="501.0" r="1.78"/><circle cx="236.4" cy="500.9" r="1.78"/><circle cx="236.9" cy="500.9" r="1.78"/><circle cx="237.5" cy="500.9" r="1.78"/><circle cx="238.0" cy="500.9" r="1.78"/><circle cx="238.5" cy="500.9" r="1.78"/><circle cx="239.0" cy="500.7" r="1.78"/><circle cx="239.6" cy="500.6" r="1.78"/><circle cx="240.1" cy="500.3" r="1.78"/><circle cx="240.7" cy="500.1" r="1.78"/><circle cx="241.2" cy="500.1" r="1.78"/><circle cx="241.7" cy="500.1" r="1.78"/><circle cx="242.3" cy="499.8" r="1.78"/><circle cx="242.8" cy="499.8" r="1.78"/><circle cx="243.4" cy="499.8" r="1.78"/><circle cx="243.9" cy="499.7" r="1.78"/><circle cx="244.5" cy="499.7" r="1.78"/><circle cx="245.0" cy="499.7" r="1.78"/><circle cx="245.6" cy="499.6" r="1.78"/><circle cx="246.2" cy="499.6" r="1.78"/><circle cx="246.7" cy="499.4" r="1.78"/><circle cx="247.3" cy="499.2" r="1.78"/><circle cx="247.9" cy="499.2" r="1.78"/><circle cx="248.5" cy="499.2" r="1.78"/><circle cx="249.1" cy="499.2" r="1.78"/><circle cx="249.6" cy="499.2" r="1.78"/><circle cx="250.2" cy="499.2" r="1.78"/><circle cx="250.8" cy="499.1" r="1.78"/><circle cx="251.4" cy="498.9" r="1.78"/><circle cx="252.0" cy="498.9" r="1.78"/><circle cx="252.6" cy="498.8" r="1.78"/><circle cx="253.2" cy="498.8" r="1.78"/><circle cx="253.8" cy="498.8" r="1.78"/><circle cx="254.5" cy="498.8" r="1.78"/><circle cx="255.1" cy="498.8" r="1.78"/><circle cx="255.7" cy="498.8" r="1.78"/><circle cx="256.3" cy="498.8" r="1.78"/><circle cx="257.0" cy="498.8" r="1.78"/><circle cx="257.6" cy="498.4" r="1.78"/><circle cx="258.3" cy="498.4" r="1.78"/><circle cx="258.9" cy="498.3" r="1.78"/><circle cx="259.6" cy="498.3" r="1.78"/><circle cx="260.3" cy="498.2" r="1.78"/><circle cx="260.9" cy="498.2" r="1.78"/><circle cx="261.6" cy="498.2" r="1.78"/><circle cx="262.3" cy="498.2" r="1.78"/><circle cx="263.0" cy="497.9" r="1.78"/><circle cx="263.7" cy="497.8" r="1.78"/><circle cx="264.4" cy="497.5" r="1.78"/><circle cx="265.1" cy="497.0" r="1.78"/><circle cx="265.9" cy="496.9" r="1.78"/><circle cx="266.6" cy="496.9" r="1.78"/><circle cx="267.3" cy="496.9" r="1.78"/><circle cx="268.1" cy="496.9" r="1.78"/><circle cx="268.8" cy="496.9" r="1.78"/><circle cx="269.6" cy="496.9" r="1.78"/><circle cx="270.4" cy="496.9" r="1.78"/><circle cx="271.2" cy="496.9" r="1.78"/><circle cx="272.0" cy="496.9" r="1.78"/><circle cx="272.8" cy="496.9" r="1.78"/><circle cx="273.6" cy="496.9" r="1.78"/><circle cx="274.5" cy="496.9" r="1.78"/><circle cx="275.3" cy="496.9" r="1.78"/><circle cx="276.2" cy="496.9" r="1.78"/><circle cx="277.0" cy="496.8" r="1.78"/><circle cx="277.9" cy="496.5" r="1.78"/><circle cx="278.8" cy="496.5" r="1.78"/><circle cx="279.8" cy="496.2" r="1.78"/><circle cx="280.7" cy="496.2" r="1.78"/><circle cx="281.7" cy="496.0" r="1.78"/><circle cx="282.7" cy="495.8" r="1.78"/><circle cx="283.7" cy="495.7" r="1.78"/><circle cx="284.7" cy="495.7" r="1.78"/><circle cx="285.7" cy="495.6" r="1.78"/><circle cx="286.8" cy="495.6" r="1.78"/><circle cx="287.9" cy="495.6" r="1.78"/><circle cx="289.0" cy="494.9" r="1.78"/><circle cx="290.2" cy="494.6" r="1.78"/><circle cx="291.4" cy="494.4" r="1.78"/><circle cx="292.6" cy="494.2" r="1.78"/><circle cx="293.8" cy="493.8" r="1.78"/><circle cx="295.1" cy="493.8" r="1.78"/><circle cx="296.5" cy="493.6" r="1.78"/><circle cx="297.8" cy="493.6" r="1.78"/><circle cx="299.3" cy="493.4" r="1.78"/><circle cx="300.8" cy="493.3" r="1.78"/><circle cx="302.3" cy="493.3" r="1.78"/><circle cx="303.9" cy="493.0" r="1.78"/><circle cx="305.6" cy="492.6" r="1.78"/><circle cx="307.4" cy="492.2" r="1.78"/><circle cx="309.3" cy="492.1" r="1.78"/><circle cx="311.2" cy="491.8" r="1.78"/><circle cx="313.3" cy="491.7" r="1.78"/><circle cx="315.5" cy="491.5" r="1.78"/><circle cx="317.9" cy="491.4" r="1.78"/><circle cx="320.5" cy="491.0" r="1.78"/><circle cx="323.4" cy="490.5" r="1.78"/><circle cx="326.5" cy="490.0" r="1.78"/><circle cx="330.0" cy="489.6" r="1.78"/><circle cx="334.0" cy="488.8" r="1.78"/><circle cx="338.6" cy="487.3" r="1.78"/><circle cx="344.3" cy="486.1" r="1.78"/><circle cx="351.5" cy="486.0" r="1.78"/><circle cx="362.0" cy="484.1" r="1.78"/><circle cx="382.8" cy="480.4" r="1.78"/>
</g>
<g fill="#0072B2" fill-opacity="0.5" stroke="#0072B2" stroke-opacity="0.5" stroke-width="0.6">
<circle cx="44.0" cy="502.0" r="1.78"/><circle cx="64.8" cy="501.6" r="1.78"/><circle cx="75.3" cy="501.6" r="1.78"/><circle cx="82.5" cy="501.6" r="1.78"/><circle cx="88.2" cy="500.8" r="1.78"/><circle cx="92.8" cy="500.0" r="1.78"/><circle cx="96.8" cy="499.6" r="1.78"/><circle cx="100.3" cy="499.2" r="1.78"/><circle cx="103.4" cy="499.2" r="1.78"/><circle cx="106.3" cy="499.0" r="1.78"/><circle cx="108.9" cy="498.6" r="1.78"/><circle cx="111.3" cy="498.6" r="1.78"/><circle cx="113.5" cy="498.3" r="1.78"/><circle cx="115.6" cy="497.9" r="1.78"/><circle cx="117.5" cy="497.9" r="1.78"/><circle cx="119.4" cy="497.9" r="1.78"/><circle cx="121.2" cy="497.9" r="1.78"/><circle cx="122.9" cy="497.8" r="1.78"/><circle cx="124.5" cy="497.6" r="1.78"/><circle cx="126.0" cy="497.5" r="1.78"/><circle cx="127.5" cy="497.0" r="1.78"/><circle cx="129.0" cy="496.8" r="1.78"/><circle cx="130.3" cy="496.8" r="1.78"/><circle cx="131.7" cy="496.8" r="1.78"/><circle cx="133.0" cy="496.8" r="1.78"/><circle cx="134.2" cy="496.8" r="1.78"/><circle cx="135.4" cy="496.8" r="1.78"/><circle cx="136.6" cy="496.8" r="1.78"/><circle cx="137.8" cy="496.8" r="1.78"/><circle cx="138.9" cy="496.8" r="1.78"/><circle cx="140.0" cy="496.5" r="1.78"/><circle cx="141.1" cy="496.2" r="1.78"/><circle cx="142.1" cy="496.1" r="1.78"/><circle cx="143.1" cy="496.0" r="1.78"/><circle cx="144.1" cy="496.0" r="1.78"/><circle cx="145.1" cy="495.9" r="1.78"/><circle cx="146.1" cy="495.9" r="1.78"/><circle cx="147.0" cy="495.7" r="1.78"/><circle cx="148.0" cy="495.5" r="1.78"/><circle cx="148.9" cy="495.3" r="1.78"/><circle cx="149.8" cy="495.3" r="1.78"/><circle cx="150.6" cy="495.3" r="1.78"/><circle cx="151.5" cy="495.3" r="1.78"/><circle cx="152.3" cy="495.3" r="1.78"/><circle cx="153.2" cy="495.2" r="1.78"/><circle cx="154.0" cy="495.1" r="1.78"/><circle cx="154.8" cy="495.1" r="1.78"/><circle cx="155.6" cy="495.1" r="1.78"/><circle cx="156.4" cy="495.1" r="1.78"/><circle cx="157.2" cy="495.1" r="1.78"/><circle cx="158.0" cy="494.9" r="1.78"/><circle cx="158.7" cy="494.8" r="1.78"/><circle cx="159.5" cy="494.4" r="1.78"/><circle cx="160.2" cy="494.1" r="1.78"/><circle cx="160.9" cy="494.1" r="1.78"/><circle cx="161.7" cy="494.1" r="1.78"/><circle cx="162.4" cy="494.1" r="1.78"/><circle cx="163.1" cy="494.1" r="1.78"/><circle cx="163.8" cy="494.1" r="1.78"/><circle cx="164.5" cy="493.9" r="1.78"/><circle cx="165.2" cy="493.8" r="1.78"/><circle cx="165.9" cy="493.8" r="1.78"/><circle cx="166.5" cy="493.8" r="1.78"/><circle cx="167.2" cy="493.8" r="1.78"/><circle cx="167.9" cy="493.8" r="1.78"/><circle cx="168.5" cy="493.7" r="1.78"/><circle cx="169.2" cy="493.4" r="1.78"/><circle cx="169.8" cy="493.2" r="1.78"/><circle cx="170.5" cy="493.2" r="1.78"/><circle cx="171.1" cy="493.1" r="1.78"/><circle cx="171.7" cy="493.1" r="1.78"/><circle cx="172.3" cy="493.1" r="1.78"/><circle cx="173.0" cy="493.1" r="1.78"/><circle cx="173.6" cy="493.1" r="1.78"/><circle cx="174.2" cy="493.1" r="1.78"/><circle cx="174.8" cy="493.0" r="1.78"/><circle cx="175.4" cy="492.8" r="1.78"/><circle cx="176.0" cy="492.5" r="1.78"/><circle cx="176.6" cy="492.3" r="1.78"/><circle cx="177.2" cy="492.0" r="1.78"/><circle cx="177.7" cy="492.0" r="1.78"/><circle cx="178.3" cy="491.9" r="1.78"/><circle cx="178.9" cy="491.9" r="1.78"/><circle cx="179.5" cy="491.9" r="1.78"/><circle cx="180.1" cy="491.9" r="1.78"/><circle cx="180.6" cy="491.7" r="1.78"/><circle cx="181.2" cy="491.6" r="1.78"/><circle cx="181.8" cy="491.6" r="1.78"/><circle cx="182.3" cy="491.3" r="1.78"/><circle cx="182.9" cy="491.3" r="1.78"/><circle cx="183.4" cy="491.3" r="1.78"/><circle cx="184.0" cy="491.3" r="1.78"/><circle cx="184.5" cy="491.1" r="1.78"/><circle cx="185.1" cy="491.1" r="1.78"/><circle cx="185.6" cy="491.0" r="1.78"/><circle cx="186.1" cy="490.7" r="1.78"/><circle cx="186.7" cy="490.7" r="1.78"/><circle cx="187.2" cy="490.7" r="1.78"/><circle cx="187.8" cy="490.7" r="1.78"/><circle cx="188.3" cy="490.7" r="1.78"/><circle cx="188.8" cy="490.7" r="1.78"/><circle cx="189.3" cy="490.6" r="1.78"/><circle cx="189.9" cy="490.6" r="1.78"/><circle cx="190.4" cy="490.5" r="1.78"/><circle cx="190.9" cy="490.5" r="1.78"/><circle cx="191.4" cy="490.5" r="1.78"/><circle cx="191.9" cy="490.5" r="1.78"/><circle cx="192.5" cy="490.1" r="1.78"/><circle cx="193.0" cy="490.1" r="1.78"/><circle cx="193.5" cy="489.9" r="1.78"/><circle cx="194.0" cy="489.8" r="1.78"/><circle cx="194.5" cy="489.8" r="1.78"/><circle cx="195.0" cy="489.8" r="1.78"/><circle cx="195.5" cy="489.8" r="1.78"/><circle cx="196.0" cy="489.6" r="1.78"/><circle cx="196.5" cy="489.6" r="1.78"/><circle cx="197.0" cy="489.5" r="1.78"/><circle cx="197.5" cy="489.3" r="1.78"/><circle cx="198.0" cy="489.3" r="1.78"/><circle cx="198.5" cy="489.2" r="1.78"/><circle cx="199.0" cy="489.1" r="1.78"/><circle cx="199.5" cy="488.9" r="1.78"/><circle cx="200.0" cy="488.9" r="1.78"/><circle cx="200.5" cy="488.9" r="1.78"/><circle cx="201.0" cy="488.8" r="1.78"/><circle cx="201.5" cy="488.8" r="1.78"/><circle cx="202.0" cy="488.8" r="1.78"/><circle cx="202.5" cy="488.6" r="1.78"/><circle cx="203.0" cy="488.6" r="1.78"/><circle cx="203.5" cy="488.6" r="1.78"/><circle cx="204.0" cy="488.6" r="1.78"/><circle cx="204.4" cy="488.6" r="1.78"/><circle cx="204.9" cy="488.6" r="1.78"/><circle cx="205.4" cy="488.5" r="1.78"/><circle cx="205.9" cy="488.4" r="1.78"/><circle cx="206.4" cy="488.2" r="1.78"/><circle cx="206.9" cy="488.2" r="1.78"/><circle cx="207.4" cy="488.1" r="1.78"/><circle cx="207.8" cy="488.1" r="1.78"/><circle cx="208.3" cy="488.0" r="1.78"/><circle cx="208.8" cy="487.8" r="1.78"/><circle cx="209.3" cy="487.8" r="1.78"/><circle cx="209.8" cy="487.7" r="1.78"/><circle cx="210.3" cy="487.6" r="1.78"/><circle cx="210.7" cy="487.6" r="1.78"/><circle cx="211.2" cy="487.3" r="1.78"/><circle cx="211.7" cy="487.3" r="1.78"/><circle cx="212.2" cy="487.0" r="1.78"/><circle cx="212.7" cy="486.8" r="1.78"/><circle cx="213.2" cy="486.8" r="1.78"/><circle cx="213.6" cy="486.8" r="1.78"/><circle cx="214.1" cy="486.7" r="1.78"/><circle cx="214.6" cy="486.6" r="1.78"/><circle cx="215.1" cy="486.6" r="1.78"/><circle cx="215.6" cy="486.4" r="1.78"/><circle cx="216.1" cy="486.3" r="1.78"/><circle cx="216.5" cy="486.3" r="1.78"/><circle cx="217.0" cy="486.2" r="1.78"/><circle cx="217.5" cy="486.2" r="1.78"/><circle cx="218.0" cy="486.2" r="1.78"/><circle cx="218.5" cy="486.1" r="1.78"/><circle cx="219.0" cy="486.0" r="1.78"/><circle cx="219.4" cy="485.9" r="1.78"/><circle cx="219.9" cy="485.5" r="1.78"/><circle cx="220.4" cy="485.5" r="1.78"/><circle cx="220.9" cy="485.5" r="1.78"/><circle cx="221.4" cy="485.5" r="1.78"/><circle cx="221.9" cy="485.5" r="1.78"/><circle cx="222.4" cy="485.5" r="1.78"/><circle cx="222.8" cy="485.4" r="1.78"/><circle cx="223.3" cy="485.4" r="1.78"/><circle cx="223.8" cy="485.4" r="1.78"/><circle cx="224.3" cy="485.1" r="1.78"/><circle cx="224.8" cy="484.9" r="1.78"/><circle cx="225.3" cy="484.6" r="1.78"/><circle cx="225.8" cy="484.4" r="1.78"/><circle cx="226.3" cy="484.4" r="1.78"/><circle cx="226.8" cy="484.4" r="1.78"/><circle cx="227.3" cy="484.4" r="1.78"/><circle cx="227.8" cy="484.4" r="1.78"/><circle cx="228.3" cy="484.4" r="1.78"/><circle cx="228.8" cy="483.9" r="1.78"/><circle cx="229.3" cy="483.9" r="1.78"/><circle cx="229.8" cy="483.9" r="1.78"/><circle cx="230.3" cy="483.9" r="1.78"/><circle cx="230.8" cy="483.7" r="1.78"/><circle cx="231.3" cy="483.7" r="1.78"/><circle cx="231.8" cy="483.6" r="1.78"/><circle cx="232.3" cy="483.6" r="1.78"/><circle cx="232.8" cy="483.5" r="1.78"/><circle cx="233.3" cy="483.5" r="1.78"/><circle cx="233.8" cy="483.5" r="1.78"/><circle cx="234.3" cy="483.5" r="1.78"/><circle cx="234.9" cy="483.4" r="1.78"/><circle cx="235.4" cy="483.2" r="1.78"/><circle cx="235.9" cy="483.0" r="1.78"/><circle cx="236.4" cy="483.0" r="1.78"/><circle cx="236.9" cy="483.0" r="1.78"/><circle cx="237.5" cy="483.0" r="1.78"/><circle cx="238.0" cy="483.0" r="1.78"/><circle cx="238.5" cy="482.9" r="1.78"/><circle cx="239.0" cy="482.9" r="1.78"/><circle cx="239.6" cy="482.9" r="1.78"/><circle cx="240.1" cy="482.9" r="1.78"/><circle cx="240.7" cy="482.9" r="1.78"/><circle cx="241.2" cy="482.9" r="1.78"/><circle cx="241.7" cy="482.7" r="1.78"/><circle cx="242.3" cy="482.3" r="1.78"/><circle cx="242.8" cy="482.3" r="1.78"/><circle cx="243.4" cy="482.1" r="1.78"/><circle cx="243.9" cy="482.1" r="1.78"/><circle cx="244.5" cy="482.1" r="1.78"/><circle cx="245.0" cy="482.1" r="1.78"/><circle cx="245.6" cy="482.0" r="1.78"/><circle cx="246.2" cy="482.0" r="1.78"/><circle cx="246.7" cy="481.7" r="1.78"/><circle cx="247.3" cy="481.6" r="1.78"/><circle cx="247.9" cy="481.4" r="1.78"/><circle cx="248.5" cy="481.3" r="1.78"/><circle cx="249.1" cy="481.3" r="1.78"/><circle cx="249.6" cy="481.1" r="1.78"/><circle cx="250.2" cy="481.0" r="1.78"/><circle cx="250.8" cy="480.8" r="1.78"/><circle cx="251.4" cy="480.6" r="1.78"/><circle cx="252.0" cy="480.5" r="1.78"/><circle cx="252.6" cy="480.3" r="1.78"/><circle cx="253.2" cy="480.1" r="1.78"/><circle cx="253.8" cy="480.1" r="1.78"/><circle cx="254.5" cy="480.1" r="1.78"/><circle cx="255.1" cy="480.0" r="1.78"/><circle cx="255.7" cy="480.0" r="1.78"/><circle cx="256.3" cy="479.8" r="1.78"/><circle cx="257.0" cy="479.6" r="1.78"/><circle cx="257.6" cy="479.4" r="1.78"/><circle cx="258.3" cy="479.3" r="1.78"/><circle cx="258.9" cy="479.1" r="1.78"/><circle cx="259.6" cy="479.1" r="1.78"/><circle cx="260.3" cy="479.0" r="1.78"/><circle cx="260.9" cy="478.9" r="1.78"/><circle cx="261.6" cy="478.7" r="1.78"/><circle cx="262.3" cy="478.7" r="1.78"/><circle cx="263.0" cy="478.4" r="1.78"/><circle cx="263.7" cy="478.3" r="1.78"/><circle cx="264.4" cy="478.2" r="1.78"/><circle cx="265.1" cy="478.1" r="1.78"/><circle cx="265.9" cy="478.0" r="1.78"/><circle cx="266.6" cy="477.9" r="1.78"/><circle cx="267.3" cy="477.7" r="1.78"/><circle cx="268.1" cy="477.6" r="1.78"/><circle cx="268.8" cy="477.4" r="1.78"/><circle cx="269.6" cy="477.3" r="1.78"/><circle cx="270.4" cy="477.0" r="1.78"/><circle cx="271.2" cy="476.9" r="1.78"/><circle cx="272.0" cy="476.8" r="1.78"/><circle cx="272.8" cy="476.8" r="1.78"/><circle cx="273.6" cy="476.6" r="1.78"/><circle cx="274.5" cy="476.4" r="1.78"/><circle cx="275.3" cy="476.3" r="1.78"/><circle cx="276.2" cy="476.1" r="1.78"/><circle cx="277.0" cy="475.5" r="1.78"/><circle cx="277.9" cy="475.4" r="1.78"/><circle cx="278.8" cy="475.3" r="1.78"/><circle cx="279.8" cy="474.9" r="1.78"/><circle cx="280.7" cy="474.7" r="1.78"/><circle cx="281.7" cy="474.7" r="1.78"/><circle cx="282.7" cy="474.7" r="1.78"/><circle cx="283.7" cy="474.7" r="1.78"/><circle cx="284.7" cy="474.7" r="1.78"/><circle cx="285.7" cy="474.7" r="1.78"/><circle cx="286.8" cy="474.4" r="1.78"/><circle cx="287.9" cy="474.1" r="1.78"/><circle cx="289.0" cy="473.6" r="1.78"/><circle cx="290.2" cy="473.2" r="1.78"/><circle cx="291.4" cy="472.9" r="1.78"/><circle cx="292.6" cy="472.8" r="1.78"/><circle cx="293.8" cy="472.7" r="1.78"/><circle cx="295.1" cy="472.7" r="1.78"/><circle cx="296.5" cy="472.7" r="1.78"/><circle cx="297.8" cy="472.5" r="1.78"/><circle cx="299.3" cy="472.4" r="1.78"/><circle cx="300.8" cy="472.2" r="1.78"/><circle cx="302.3" cy="472.0" r="1.78"/><circle cx="303.9" cy="471.9" r="1.78"/><circle cx="305.6" cy="471.7" r="1.78"/><circle cx="307.4" cy="471.3" r="1.78"/><circle cx="309.3" cy="470.9" r="1.78"/><circle cx="311.2" cy="470.2" r="1.78"/><circle cx="313.3" cy="469.9" r="1.78"/><circle cx="315.5" cy="469.6" r="1.78"/><circle cx="317.9" cy="469.2" r="1.78"/><circle cx="320.5" cy="468.7" r="1.78"/><circle cx="323.4" cy="468.3" r="1.78"/><circle cx="326.5" cy="467.7" r="1.78"/><circle cx="330.0" cy="467.3" r="1.78"/><circle cx="334.0" cy="466.5" r="1.78"/><circle cx="338.6" cy="465.6" r="1.78"/><circle cx="344.3" cy="462.6" r="1.78"/><circle cx="351.5" cy="462.4" r="1.78"/><circle cx="362.0" cy="448.1" r="1.78"/><circle cx="382.8" cy="441.9" r="1.78"/>
</g>
<g fill="#D55E00" fill-opacity="0.5" stroke="#D55E00" stroke-opacity="0.5" stroke-width="0.6">
<circle cx="44.0" cy="485.0" r="1.78"/><circle cx="64.8" cy="481.3" r="1.78"/><circle cx="75.3" cy="481.3" r="1.78"/><circle cx="82.5" cy="479.9" r="1.78"/><circle cx="88.2" cy="479.1" r="1.78"/><circle cx="92.8" cy="478.9" r="1.78"/><circle cx="96.8" cy="478.5" r="1.78"/><circle cx="100.3" cy="478.5" r="1.78"/><circle cx="103.4" cy="478.3" r="1.78"/><circle cx="106.3" cy="477.9" r="1.78"/><circle cx="108.9" cy="477.3" r="1.78"/><circle cx="111.3" cy="477.1" r="1.78"/><circle cx="113.5" cy="476.6" r="1.78"/><circle cx="115.6" cy="476.1" r="1.78"/><circle cx="117.5" cy="475.5" r="1.78"/><circle cx="119.4" cy="475.1" r="1.78"/><circle cx="121.2" cy="474.7" r="1.78"/><circle cx="122.9" cy="474.2" r="1.78"/><circle cx="124.5" cy="473.8" r="1.78"/><circle cx="126.0" cy="473.5" r="1.78"/><circle cx="127.5" cy="473.0" r="1.78"/><circle cx="129.0" cy="472.4" r="1.78"/><circle cx="130.3" cy="472.3" r="1.78"/><circle cx="131.7" cy="472.2" r="1.78"/><circle cx="133.0" cy="471.9" r="1.78"/><circle cx="134.2" cy="471.6" r="1.78"/><circle cx="135.4" cy="471.6" r="1.78"/><circle cx="136.6" cy="471.2" r="1.78"/><circle cx="137.8" cy="471.0" r="1.78"/><circle cx="138.9" cy="470.6" r="1.78"/><circle cx="140.0" cy="470.3" r="1.78"/><circle cx="141.1" cy="470.0" r="1.78"/><circle cx="142.1" cy="469.7" r="1.78"/><circle cx="143.1" cy="469.4" r="1.78"/><circle cx="144.1" cy="469.3" r="1.78"/><circle cx="145.1" cy="469.0" r="1.78"/><circle cx="146.1" cy="468.8" r="1.78"/><circle cx="147.0" cy="468.6" r="1.78"/><circle cx="148.0" cy="468.4" r="1.78"/><circle cx="148.9" cy="468.1" r="1.78"/><circle cx="149.8" cy="468.0" r="1.78"/><circle cx="150.6" cy="467.9" r="1.78"/><circle cx="151.5" cy="467.9" r="1.78"/><circle cx="152.3" cy="467.9" r="1.78"/><circle cx="153.2" cy="467.9" r="1.78"/><circle cx="154.0" cy="467.8" r="1.78"/><circle cx="154.8" cy="467.7" r="1.78"/><circle cx="155.6" cy="467.3" r="1.78"/><circle cx="156.4" cy="466.9" r="1.78"/><circle cx="157.2" cy="466.8" r="1.78"/><circle cx="158.0" cy="466.7" r="1.78"/><circle cx="158.7" cy="466.4" r="1.78"/><circle cx="159.5" cy="466.1" r="1.78"/><circle cx="160.2" cy="466.0" r="1.78"/><circle cx="160.9" cy="466.0" r="1.78"/><circle cx="161.7" cy="465.7" r="1.78"/><circle cx="162.4" cy="465.7" r="1.78"/><circle cx="163.1" cy="465.7" r="1.78"/><circle cx="163.8" cy="465.7" r="1.78"/><circle cx="164.5" cy="465.7" r="1.78"/><circle cx="165.2" cy="465.7" r="1.78"/><circle cx="165.9" cy="465.7" r="1.78"/><circle cx="166.5" cy="465.6" r="1.78"/><circle cx="167.2" cy="465.3" r="1.78"/><circle cx="167.9" cy="465.3" r="1.78"/><circle cx="168.5" cy="465.2" r="1.78"/><circle cx="169.2" cy="465.1" r="1.78"/><circle cx="169.8" cy="465.0" r="1.78"/><circle cx="170.5" cy="465.0" r="1.78"/><circle cx="171.1" cy="464.8" r="1.78"/><circle cx="171.7" cy="464.5" r="1.78"/><circle cx="172.3" cy="464.3" r="1.78"/><circle cx="173.0" cy="464.2" r="1.78"/><circle cx="173.6" cy="464.2" r="1.78"/><circle cx="174.2" cy="464.2" r="1.78"/><circle cx="174.8" cy="464.2" r="1.78"/><circle cx="175.4" cy="464.2" r="1.78"/><circle cx="176.0" cy="464.2" r="1.78"/><circle cx="176.6" cy="463.9" r="1.78"/><circle cx="177.2" cy="463.6" r="1.78"/><circle cx="177.7" cy="463.6" r="1.78"/><circle cx="178.3" cy="463.4" r="1.78"/><circle cx="178.9" cy="463.1" r="1.78"/><circle cx="179.5" cy="462.9" r="1.78"/><circle cx="180.1" cy="462.9" r="1.78"/><circle cx="180.6" cy="462.9" r="1.78"/><circle cx="181.2" cy="462.8" r="1.78"/><circle cx="181.8" cy="462.6" r="1.78"/><circle cx="182.3" cy="462.3" r="1.78"/><circle cx="182.9" cy="462.0" r="1.78"/><circle cx="183.4" cy="461.7" r="1.78"/><circle cx="184.0" cy="461.5" r="1.78"/><circle cx="184.5" cy="461.4" r="1.78"/><circle cx="185.1" cy="461.4" r="1.78"/><circle cx="185.6" cy="461.1" r="1.78"/><circle cx="186.1" cy="461.0" r="1.78"/><circle cx="186.7" cy="460.8" r="1.78"/><circle cx="187.2" cy="460.6" r="1.78"/><circle cx="187.8" cy="460.4" r="1.78"/><circle cx="188.3" cy="460.4" r="1.78"/><circle cx="188.8" cy="460.1" r="1.78"/><circle cx="189.3" cy="460.1" r="1.78"/><circle cx="189.9" cy="460.1" r="1.78"/><circle cx="190.4" cy="460.1" r="1.78"/><circle cx="190.9" cy="460.1" r="1.78"/><circle cx="191.4" cy="460.1" r="1.78"/><circle cx="191.9" cy="460.1" r="1.78"/><circle cx="192.5" cy="459.9" r="1.78"/><circle cx="193.0" cy="459.6" r="1.78"/><circle cx="193.5" cy="459.2" r="1.78"/><circle cx="194.0" cy="459.1" r="1.78"/><circle cx="194.5" cy="459.0" r="1.78"/><circle cx="195.0" cy="459.0" r="1.78"/><circle cx="195.5" cy="458.9" r="1.78"/><circle cx="196.0" cy="458.9" r="1.78"/><circle cx="196.5" cy="458.7" r="1.78"/><circle cx="197.0" cy="458.7" r="1.78"/><circle cx="197.5" cy="458.7" r="1.78"/><circle cx="198.0" cy="458.7" r="1.78"/><circle cx="198.5" cy="458.5" r="1.78"/><circle cx="199.0" cy="458.2" r="1.78"/><circle cx="199.5" cy="458.1" r="1.78"/><circle cx="200.0" cy="458.1" r="1.78"/><circle cx="200.5" cy="458.1" r="1.78"/><circle cx="201.0" cy="458.1" r="1.78"/><circle cx="201.5" cy="458.1" r="1.78"/><circle cx="202.0" cy="458.1" r="1.78"/><circle cx="202.5" cy="458.1" r="1.78"/><circle cx="203.0" cy="457.9" r="1.78"/><circle cx="203.5" cy="457.6" r="1.78"/><circle cx="204.0" cy="457.4" r="1.78"/><circle cx="204.4" cy="457.3" r="1.78"/><circle cx="204.9" cy="457.0" r="1.78"/><circle cx="205.4" cy="456.9" r="1.78"/><circle cx="205.9" cy="456.6" r="1.78"/><circle cx="206.4" cy="456.5" r="1.78"/><circle cx="206.9" cy="456.5" r="1.78"/><circle cx="207.4" cy="456.5" r="1.78"/><circle cx="207.8" cy="456.4" r="1.78"/><circle cx="208.3" cy="456.4" r="1.78"/><circle cx="208.8" cy="456.4" r="1.78"/><circle cx="209.3" cy="455.9" r="1.78"/><circle cx="209.8" cy="455.7" r="1.78"/><circle cx="210.3" cy="455.7" r="1.78"/><circle cx="210.7" cy="455.5" r="1.78"/><circle cx="211.2" cy="455.3" r="1.78"/><circle cx="211.7" cy="455.3" r="1.78"/><circle cx="212.2" cy="455.3" r="1.78"/><circle cx="212.7" cy="455.1" r="1.78"/><circle cx="213.2" cy="454.8" r="1.78"/><circle cx="213.6" cy="454.8" r="1.78"/><circle cx="214.1" cy="454.3" r="1.78"/><circle cx="214.6" cy="454.2" r="1.78"/><circle cx="215.1" cy="453.9" r="1.78"/><circle cx="215.6" cy="453.9" r="1.78"/><circle cx="216.1" cy="453.7" r="1.78"/><circle cx="216.5" cy="453.7" r="1.78"/><circle cx="217.0" cy="453.6" r="1.78"/><circle cx="217.5" cy="453.6" r="1.78"/><circle cx="218.0" cy="453.3" r="1.78"/><circle cx="218.5" cy="453.0" r="1.78"/><circle cx="219.0" cy="452.7" r="1.78"/><circle cx="219.4" cy="452.6" r="1.78"/><circle cx="219.9" cy="452.1" r="1.78"/><circle cx="220.4" cy="451.9" r="1.78"/><circle cx="220.9" cy="451.7" r="1.78"/><circle cx="221.4" cy="451.4" r="1.78"/><circle cx="221.9" cy="451.3" r="1.78"/><circle cx="222.4" cy="451.3" r="1.78"/><circle cx="222.8" cy="451.3" r="1.78"/><circle cx="223.3" cy="451.3" r="1.78"/><circle cx="223.8" cy="451.1" r="1.78"/><circle cx="224.3" cy="450.8" r="1.78"/><circle cx="224.8" cy="450.5" r="1.78"/><circle cx="225.3" cy="450.0" r="1.78"/><circle cx="225.8" cy="449.9" r="1.78"/><circle cx="226.3" cy="449.8" r="1.78"/><circle cx="226.8" cy="449.5" r="1.78"/><circle cx="227.3" cy="449.5" r="1.78"/><circle cx="227.8" cy="449.5" r="1.78"/><circle cx="228.3" cy="449.3" r="1.78"/><circle cx="228.8" cy="449.3" r="1.78"/><circle cx="229.3" cy="449.3" r="1.78"/><circle cx="229.8" cy="449.2" r="1.78"/><circle cx="230.3" cy="449.2" r="1.78"/><circle cx="230.8" cy="449.0" r="1.78"/><circle cx="231.3" cy="448.9" r="1.78"/><circle cx="231.8" cy="448.8" r="1.78"/><circle cx="232.3" cy="448.5" r="1.78"/><circle cx="232.8" cy="448.2" r="1.78"/><circle cx="233.3" cy="448.0" r="1.78"/><circle cx="233.8" cy="447.8" r="1.78"/><circle cx="234.3" cy="447.5" r="1.78"/><circle cx="234.9" cy="447.5" r="1.78"/><circle cx="235.4" cy="447.5" r="1.78"/><circle cx="235.9" cy="447.4" r="1.78"/><circle cx="236.4" cy="447.0" r="1.78"/><circle cx="236.9" cy="447.0" r="1.78"/><circle cx="237.5" cy="446.7" r="1.78"/><circle cx="238.0" cy="446.5" r="1.78"/><circle cx="238.5" cy="446.5" r="1.78"/><circle cx="239.0" cy="446.5" r="1.78"/><circle cx="239.6" cy="446.5" r="1.78"/><circle cx="240.1" cy="446.3" r="1.78"/><circle cx="240.7" cy="446.2" r="1.78"/><circle cx="241.2" cy="446.2" r="1.78"/><circle cx="241.7" cy="446.2" r="1.78"/><circle cx="242.3" cy="446.1" r="1.78"/><circle cx="242.8" cy="446.0" r="1.78"/><circle cx="243.4" cy="445.7" r="1.78"/><circle cx="243.9" cy="445.6" r="1.78"/><circle cx="244.5" cy="445.0" r="1.78"/><circle cx="245.0" cy="444.9" r="1.78"/><circle cx="245.6" cy="444.8" r="1.78"/><circle cx="246.2" cy="444.6" r="1.78"/><circle cx="246.7" cy="444.2" r="1.78"/><circle cx="247.3" cy="444.1" r="1.78"/><circle cx="247.9" cy="443.8" r="1.78"/><circle cx="248.5" cy="443.4" r="1.78"/><circle cx="249.1" cy="443.3" r="1.78"/><circle cx="249.6" cy="443.2" r="1.78"/><circle cx="250.2" cy="443.1" r="1.78"/><circle cx="250.8" cy="442.9" r="1.78"/><circle cx="251.4" cy="442.8" r="1.78"/><circle cx="252.0" cy="442.8" r="1.78"/><circle cx="252.6" cy="442.6" r="1.78"/><circle cx="253.2" cy="442.4" r="1.78"/><circle cx="253.8" cy="442.3" r="1.78"/><circle cx="254.5" cy="442.3" r="1.78"/><circle cx="255.1" cy="441.9" r="1.78"/><circle cx="255.7" cy="441.5" r="1.78"/><circle cx="256.3" cy="441.3" r="1.78"/><circle cx="257.0" cy="441.3" r="1.78"/><circle cx="257.6" cy="441.1" r="1.78"/><circle cx="258.3" cy="441.1" r="1.78"/><circle cx="258.9" cy="441.0" r="1.78"/><circle cx="259.6" cy="441.0" r="1.78"/><circle cx="260.3" cy="440.7" r="1.78"/><circle cx="260.9" cy="440.5" r="1.78"/><circle cx="261.6" cy="440.5" r="1.78"/><circle cx="262.3" cy="440.5" r="1.78"/><circle cx="263.0" cy="440.2" r="1.78"/><circle cx="263.7" cy="440.1" r="1.78"/><circle cx="264.4" cy="440.0" r="1.78"/><circle cx="265.1" cy="439.7" r="1.78"/><circle cx="265.9" cy="439.5" r="1.78"/><circle cx="266.6" cy="439.2" r="1.78"/><circle cx="267.3" cy="439.0" r="1.78"/><circle cx="268.1" cy="438.9" r="1.78"/><circle cx="268.8" cy="438.6" r="1.78"/><circle cx="269.6" cy="438.6" r="1.78"/><circle cx="270.4" cy="438.6" r="1.78"/><circle cx="271.2" cy="438.6" r="1.78"/><circle cx="272.0" cy="438.4" r="1.78"/><circle cx="272.8" cy="438.4" r="1.78"/><circle cx="273.6" cy="438.3" r="1.78"/><circle cx="274.5" cy="438.2" r="1.78"/><circle cx="275.3" cy="437.9" r="1.78"/><circle cx="276.2" cy="437.9" r="1.78"/><circle cx="277.0" cy="437.8" r="1.78"/><circle cx="277.9" cy="437.3" r="1.78"/><circle cx="278.8" cy="437.0" r="1.78"/><circle cx="279.8" cy="436.8" r="1.78"/><circle cx="280.7" cy="436.7" r="1.78"/><circle cx="281.7" cy="436.2" r="1.78"/><circle cx="282.7" cy="436.1" r="1.78"/><circle cx="283.7" cy="435.8" r="1.78"/><circle cx="284.7" cy="435.5" r="1.78"/><circle cx="285.7" cy="435.2" r="1.78"/><circle cx="286.8" cy="434.8" r="1.78"/><circle cx="287.9" cy="434.4" r="1.78"/><circle cx="289.0" cy="434.2" r="1.78"/><circle cx="290.2" cy="433.7" r="1.78"/><circle cx="291.4" cy="433.3" r="1.78"/><circle cx="292.6" cy="433.2" r="1.78"/><circle cx="293.8" cy="432.7" r="1.78"/><circle cx="295.1" cy="432.2" r="1.78"/><circle cx="296.5" cy="431.8" r="1.78"/><circle cx="297.8" cy="431.5" r="1.78"/><circle cx="299.3" cy="431.3" r="1.78"/><circle cx="300.8" cy="431.2" r="1.78"/><circle cx="302.3" cy="430.7" r="1.78"/><circle cx="303.9" cy="430.4" r="1.78"/><circle cx="305.6" cy="429.8" r="1.78"/><circle cx="307.4" cy="429.0" r="1.78"/><circle cx="309.3" cy="428.3" r="1.78"/><circle cx="311.2" cy="427.6" r="1.78"/><circle cx="313.3" cy="427.0" r="1.78"/><circle cx="315.5" cy="426.3" r="1.78"/><circle cx="317.9" cy="425.7" r="1.78"/><circle cx="320.5" cy="424.8" r="1.78"/><circle cx="323.4" cy="424.0" r="1.78"/><circle cx="326.5" cy="423.2" r="1.78"/><circle cx="330.0" cy="422.4" r="1.78"/><circle cx="334.0" cy="421.1" r="1.78"/><circle cx="338.6" cy="420.1" r="1.78"/><circle cx="344.3" cy="419.5" r="1.78"/><circle cx="351.5" cy="416.7" r="1.78"/><circle cx="362.0" cy="409.3" r="1.78"/><circle cx="382.8" cy="408.6" r="1.78"/>
</g>
<g fill="#CC79A7" fill-opacity="0.5" stroke="#CC79A7" stroke-opacity="0.5" stroke-width="0.6">
<circle cx="44.0" cy="411.2" r="1.78"/><circle cx="64.8" cy="409.5" r="1.78"/><circle cx="75.3" cy="400.1" r="1.78"/><circle cx="82.5" cy="397.7" r="1.78"/><circle cx="88.2" cy="396.7" r="1.78"/><circle cx="92.8" cy="396.4" r="1.78"/><circle cx="96.8" cy="396.3" r="1.78"/><circle cx="100.3" cy="392.9" r="1.78"/><circle cx="103.4" cy="392.7" r="1.78"/><circle cx="106.3" cy="392.5" r="1.78"/><circle cx="108.9" cy="392.5" r="1.78"/><circle cx="111.3" cy="392.3" r="1.78"/><circle cx="113.5" cy="388.9" r="1.78"/><circle cx="115.6" cy="388.1" r="1.78"/><circle cx="117.5" cy="387.8" r="1.78"/><circle cx="119.4" cy="387.4" r="1.78"/><circle cx="121.2" cy="387.0" r="1.78"/><circle cx="122.9" cy="386.7" r="1.78"/><circle cx="124.5" cy="386.4" r="1.78"/><circle cx="126.0" cy="386.0" r="1.78"/><circle cx="127.5" cy="385.8" r="1.78"/><circle cx="129.0" cy="385.6" r="1.78"/><circle cx="130.3" cy="385.2" r="1.78"/><circle cx="131.7" cy="384.8" r="1.78"/><circle cx="133.0" cy="384.5" r="1.78"/><circle cx="134.2" cy="384.1" r="1.78"/><circle cx="135.4" cy="383.7" r="1.78"/><circle cx="136.6" cy="383.0" r="1.78"/><circle cx="137.8" cy="382.6" r="1.78"/><circle cx="138.9" cy="382.0" r="1.78"/><circle cx="140.0" cy="381.8" r="1.78"/><circle cx="141.1" cy="381.5" r="1.78"/><circle cx="142.1" cy="381.0" r="1.78"/><circle cx="143.1" cy="380.6" r="1.78"/><circle cx="144.1" cy="380.4" r="1.78"/><circle cx="145.1" cy="380.0" r="1.78"/><circle cx="146.1" cy="379.6" r="1.78"/><circle cx="147.0" cy="379.4" r="1.78"/><circle cx="148.0" cy="379.3" r="1.78"/><circle cx="148.9" cy="378.9" r="1.78"/><circle cx="149.8" cy="378.4" r="1.78"/><circle cx="150.6" cy="378.1" r="1.78"/><circle cx="151.5" cy="377.5" r="1.78"/><circle cx="152.3" cy="377.2" r="1.78"/><circle cx="153.2" cy="376.6" r="1.78"/><circle cx="154.0" cy="376.4" r="1.78"/><circle cx="154.8" cy="375.9" r="1.78"/><circle cx="155.6" cy="375.8" r="1.78"/><circle cx="156.4" cy="375.5" r="1.78"/><circle cx="157.2" cy="375.2" r="1.78"/><circle cx="158.0" cy="374.8" r="1.78"/><circle cx="158.7" cy="374.4" r="1.78"/><circle cx="159.5" cy="374.2" r="1.78"/><circle cx="160.2" cy="374.0" r="1.78"/><circle cx="160.9" cy="374.0" r="1.78"/><circle cx="161.7" cy="373.9" r="1.78"/><circle cx="162.4" cy="373.9" r="1.78"/><circle cx="163.1" cy="373.7" r="1.78"/><circle cx="163.8" cy="373.4" r="1.78"/><circle cx="164.5" cy="373.2" r="1.78"/><circle cx="165.2" cy="373.1" r="1.78"/><circle cx="165.9" cy="372.8" r="1.78"/><circle cx="166.5" cy="372.5" r="1.78"/><circle cx="167.2" cy="372.3" r="1.78"/><circle cx="167.9" cy="372.1" r="1.78"/><circle cx="168.5" cy="371.7" r="1.78"/><circle cx="169.2" cy="371.6" r="1.78"/><circle cx="169.8" cy="371.4" r="1.78"/><circle cx="170.5" cy="371.2" r="1.78"/><circle cx="171.1" cy="370.9" r="1.78"/><circle cx="171.7" cy="370.8" r="1.78"/><circle cx="172.3" cy="370.6" r="1.78"/><circle cx="173.0" cy="370.3" r="1.78"/><circle cx="173.6" cy="370.3" r="1.78"/><circle cx="174.2" cy="370.2" r="1.78"/><circle cx="174.8" cy="370.2" r="1.78"/><circle cx="175.4" cy="370.0" r="1.78"/><circle cx="176.0" cy="369.8" r="1.78"/><circle cx="176.6" cy="369.4" r="1.78"/><circle cx="177.2" cy="369.2" r="1.78"/><circle cx="177.7" cy="368.8" r="1.78"/><circle cx="178.3" cy="368.5" r="1.78"/><circle cx="178.9" cy="368.4" r="1.78"/><circle cx="179.5" cy="368.1" r="1.78"/><circle cx="180.1" cy="367.8" r="1.78"/><circle cx="180.6" cy="367.4" r="1.78"/><circle cx="181.2" cy="367.3" r="1.78"/><circle cx="181.8" cy="367.0" r="1.78"/><circle cx="182.3" cy="367.0" r="1.78"/><circle cx="182.9" cy="366.8" r="1.78"/><circle cx="183.4" cy="366.8" r="1.78"/><circle cx="184.0" cy="366.6" r="1.78"/><circle cx="184.5" cy="366.3" r="1.78"/><circle cx="185.1" cy="366.1" r="1.78"/><circle cx="185.6" cy="365.7" r="1.78"/><circle cx="186.1" cy="365.4" r="1.78"/><circle cx="186.7" cy="365.4" r="1.78"/><circle cx="187.2" cy="365.4" r="1.78"/><circle cx="187.8" cy="365.4" r="1.78"/><circle cx="188.3" cy="365.4" r="1.78"/><circle cx="188.8" cy="365.3" r="1.78"/><circle cx="189.3" cy="365.0" r="1.78"/><circle cx="189.9" cy="364.9" r="1.78"/><circle cx="190.4" cy="364.7" r="1.78"/><circle cx="190.9" cy="364.7" r="1.78"/><circle cx="191.4" cy="364.7" r="1.78"/><circle cx="191.9" cy="364.6" r="1.78"/><circle cx="192.5" cy="364.3" r="1.78"/><circle cx="193.0" cy="364.2" r="1.78"/><circle cx="193.5" cy="363.8" r="1.78"/><circle cx="194.0" cy="363.8" r="1.78"/><circle cx="194.5" cy="363.6" r="1.78"/><circle cx="195.0" cy="363.6" r="1.78"/><circle cx="195.5" cy="363.5" r="1.78"/><circle cx="196.0" cy="363.4" r="1.78"/><circle cx="196.5" cy="363.3" r="1.78"/><circle cx="197.0" cy="363.2" r="1.78"/><circle cx="197.5" cy="362.9" r="1.78"/><circle cx="198.0" cy="362.9" r="1.78"/><circle cx="198.5" cy="362.8" r="1.78"/><circle cx="199.0" cy="362.6" r="1.78"/><circle cx="199.5" cy="362.6" r="1.78"/><circle cx="200.0" cy="362.5" r="1.78"/><circle cx="200.5" cy="362.0" r="1.78"/><circle cx="201.0" cy="361.6" r="1.78"/><circle cx="201.5" cy="361.0" r="1.78"/><circle cx="202.0" cy="360.4" r="1.78"/><circle cx="202.5" cy="359.7" r="1.78"/><circle cx="203.0" cy="359.3" r="1.78"/><circle cx="203.5" cy="359.2" r="1.78"/><circle cx="204.0" cy="359.1" r="1.78"/><circle cx="204.4" cy="358.7" r="1.78"/><circle cx="204.9" cy="358.4" r="1.78"/><circle cx="205.4" cy="358.1" r="1.78"/><circle cx="205.9" cy="357.7" r="1.78"/><circle cx="206.4" cy="357.1" r="1.78"/><circle cx="206.9" cy="357.0" r="1.78"/><circle cx="207.4" cy="356.9" r="1.78"/><circle cx="207.8" cy="356.9" r="1.78"/><circle cx="208.3" cy="356.9" r="1.78"/><circle cx="208.8" cy="356.9" r="1.78"/><circle cx="209.3" cy="356.8" r="1.78"/><circle cx="209.8" cy="356.7" r="1.78"/><circle cx="210.3" cy="356.6" r="1.78"/><circle cx="210.7" cy="356.1" r="1.78"/><circle cx="211.2" cy="355.6" r="1.78"/><circle cx="211.7" cy="355.5" r="1.78"/><circle cx="212.2" cy="354.9" r="1.78"/><circle cx="212.7" cy="354.7" r="1.78"/><circle cx="213.2" cy="354.2" r="1.78"/><circle cx="213.6" cy="353.9" r="1.78"/><circle cx="214.1" cy="353.5" r="1.78"/><circle cx="214.6" cy="353.4" r="1.78"/><circle cx="215.1" cy="352.9" r="1.78"/><circle cx="215.6" cy="352.9" r="1.78"/><circle cx="216.1" cy="352.8" r="1.78"/><circle cx="216.5" cy="352.8" r="1.78"/><circle cx="217.0" cy="352.4" r="1.78"/><circle cx="217.5" cy="352.2" r="1.78"/><circle cx="218.0" cy="352.0" r="1.78"/><circle cx="218.5" cy="351.9" r="1.78"/><circle cx="219.0" cy="351.7" r="1.78"/><circle cx="219.4" cy="351.7" r="1.78"/><circle cx="219.9" cy="351.5" r="1.78"/><circle cx="220.4" cy="351.5" r="1.78"/><circle cx="220.9" cy="351.4" r="1.78"/><circle cx="221.4" cy="351.1" r="1.78"/><circle cx="221.9" cy="351.1" r="1.78"/><circle cx="222.4" cy="351.1" r="1.78"/><circle cx="222.8" cy="351.1" r="1.78"/><circle cx="223.3" cy="350.9" r="1.78"/><circle cx="223.8" cy="350.9" r="1.78"/><circle cx="224.3" cy="350.8" r="1.78"/><circle cx="224.8" cy="350.4" r="1.78"/><circle cx="225.3" cy="350.4" r="1.78"/><circle cx="225.8" cy="350.1" r="1.78"/><circle cx="226.3" cy="349.7" r="1.78"/><circle cx="226.8" cy="349.4" r="1.78"/><circle cx="227.3" cy="349.2" r="1.78"/><circle cx="227.8" cy="349.0" r="1.78"/><circle cx="228.3" cy="348.8" r="1.78"/><circle cx="228.8" cy="348.5" r="1.78"/><circle cx="229.3" cy="348.4" r="1.78"/><circle cx="229.8" cy="348.0" r="1.78"/><circle cx="230.3" cy="347.7" r="1.78"/><circle cx="230.8" cy="347.6" r="1.78"/><circle cx="231.3" cy="347.5" r="1.78"/><circle cx="231.8" cy="347.3" r="1.78"/><circle cx="232.3" cy="347.2" r="1.78"/><circle cx="232.8" cy="346.9" r="1.78"/><circle cx="233.3" cy="346.5" r="1.78"/><circle cx="233.8" cy="346.1" r="1.78"/><circle cx="234.3" cy="345.9" r="1.78"/><circle cx="234.9" cy="345.4" r="1.78"/><circle cx="235.4" cy="345.3" r="1.78"/><circle cx="235.9" cy="345.0" r="1.78"/><circle cx="236.4" cy="344.7" r="1.78"/><circle cx="236.9" cy="344.3" r="1.78"/><circle cx="237.5" cy="344.0" r="1.78"/><circle cx="238.0" cy="343.6" r="1.78"/><circle cx="238.5" cy="343.2" r="1.78"/><circle cx="239.0" cy="343.1" r="1.78"/><circle cx="239.6" cy="342.8" r="1.78"/><circle cx="240.1" cy="342.4" r="1.78"/><circle cx="240.7" cy="342.0" r="1.78"/><circle cx="241.2" cy="341.6" r="1.78"/><circle cx="241.7" cy="341.1" r="1.78"/><circle cx="242.3" cy="341.1" r="1.78"/><circle cx="242.8" cy="341.1" r="1.78"/><circle cx="243.4" cy="340.8" r="1.78"/><circle cx="243.9" cy="340.7" r="1.78"/><circle cx="244.5" cy="340.6" r="1.78"/><circle cx="245.0" cy="340.3" r="1.78"/><circle cx="245.6" cy="339.9" r="1.78"/><circle cx="246.2" cy="339.9" r="1.78"/><circle cx="246.7" cy="339.9" r="1.78"/><circle cx="247.3" cy="339.7" r="1.78"/><circle cx="247.9" cy="339.5" r="1.78"/><circle cx="248.5" cy="339.2" r="1.78"/><circle cx="249.1" cy="338.9" r="1.78"/><circle cx="249.6" cy="338.3" r="1.78"/><circle cx="250.2" cy="337.8" r="1.78"/><circle cx="250.8" cy="337.5" r="1.78"/><circle cx="251.4" cy="337.0" r="1.78"/><circle cx="252.0" cy="336.6" r="1.78"/><circle cx="252.6" cy="336.4" r="1.78"/><circle cx="253.2" cy="336.4" r="1.78"/><circle cx="253.8" cy="336.1" r="1.78"/><circle cx="254.5" cy="335.8" r="1.78"/><circle cx="255.1" cy="335.5" r="1.78"/><circle cx="255.7" cy="335.2" r="1.78"/><circle cx="256.3" cy="334.7" r="1.78"/><circle cx="257.0" cy="334.5" r="1.78"/><circle cx="257.6" cy="334.0" r="1.78"/><circle cx="258.3" cy="333.6" r="1.78"/><circle cx="258.9" cy="333.1" r="1.78"/><circle cx="259.6" cy="332.8" r="1.78"/><circle cx="260.3" cy="332.7" r="1.78"/><circle cx="260.9" cy="332.5" r="1.78"/><circle cx="261.6" cy="332.4" r="1.78"/><circle cx="262.3" cy="332.4" r="1.78"/><circle cx="263.0" cy="332.2" r="1.78"/><circle cx="263.7" cy="332.0" r="1.78"/><circle cx="264.4" cy="331.9" r="1.78"/><circle cx="265.1" cy="331.6" r="1.78"/><circle cx="265.9" cy="331.3" r="1.78"/><circle cx="266.6" cy="331.3" r="1.78"/><circle cx="267.3" cy="330.9" r="1.78"/><circle cx="268.1" cy="330.7" r="1.78"/><circle cx="268.8" cy="330.7" r="1.78"/><circle cx="269.6" cy="330.6" r="1.78"/><circle cx="270.4" cy="330.0" r="1.78"/><circle cx="271.2" cy="330.0" r="1.78"/><circle cx="272.0" cy="329.8" r="1.78"/><circle cx="272.8" cy="329.4" r="1.78"/><circle cx="273.6" cy="329.0" r="1.78"/><circle cx="274.5" cy="328.7" r="1.78"/><circle cx="275.3" cy="328.3" r="1.78"/><circle cx="276.2" cy="327.9" r="1.78"/><circle cx="277.0" cy="327.5" r="1.78"/><circle cx="277.9" cy="327.4" r="1.78"/><circle cx="278.8" cy="327.1" r="1.78"/><circle cx="279.8" cy="326.7" r="1.78"/><circle cx="280.7" cy="326.5" r="1.78"/><circle cx="281.7" cy="326.1" r="1.78"/><circle cx="282.7" cy="325.6" r="1.78"/><circle cx="283.7" cy="325.2" r="1.78"/><circle cx="284.7" cy="324.6" r="1.78"/><circle cx="285.7" cy="323.9" r="1.78"/><circle cx="286.8" cy="323.3" r="1.78"/><circle cx="287.9" cy="322.4" r="1.78"/><circle cx="289.0" cy="321.5" r="1.78"/><circle cx="290.2" cy="320.8" r="1.78"/><circle cx="291.4" cy="320.0" r="1.78"/><circle cx="292.6" cy="318.9" r="1.78"/><circle cx="293.8" cy="318.0" r="1.78"/><circle cx="295.1" cy="317.0" r="1.78"/><circle cx="296.5" cy="316.2" r="1.78"/><circle cx="297.8" cy="315.7" r="1.78"/><circle cx="299.3" cy="315.3" r="1.78"/><circle cx="300.8" cy="314.8" r="1.78"/><circle cx="302.3" cy="314.1" r="1.78"/><circle cx="303.9" cy="313.2" r="1.78"/><circle cx="305.6" cy="312.1" r="1.78"/><circle cx="307.4" cy="311.2" r="1.78"/><circle cx="309.3" cy="310.6" r="1.78"/><circle cx="311.2" cy="309.9" r="1.78"/><circle cx="313.3" cy="308.8" r="1.78"/><circle cx="315.5" cy="304.2" r="1.78"/><circle cx="317.9" cy="303.5" r="1.78"/><circle cx="320.5" cy="302.9" r="1.78"/><circle cx="323.4" cy="302.7" r="1.78"/><circle cx="326.5" cy="302.4" r="1.78"/><circle cx="330.0" cy="299.6" r="1.78"/><circle cx="334.0" cy="298.4" r="1.78"/><circle cx="338.6" cy="296.9" r="1.78"/><circle cx="344.3" cy="295.1" r="1.78"/><circle cx="351.5" cy="293.0" r="1.78"/><circle cx="362.0" cy="289.0" r="1.78"/><circle cx="382.8" cy="286.0" r="1.78"/>
</g>
<line x1="43.8" y1="513.6" x2="383" y2="491.9" stroke="#F0E442" stroke-opacity="0.8" stroke-width="1"/>
<line x1="43.8" y1="511.5" x2="383" y2="462.4" stroke="#0072B2" stroke-opacity="0.8" stroke-width="1"/>
<line x1="43.8" y1="499.2" x2="383" y2="408.6" stroke="#D55E00" stroke-opacity="0.8" stroke-width="1"/>
<line x1="44.1" y1="423.8" x2="383" y2="285.3" stroke="#CC79A7" stroke-opacity="0.8" stroke-width="1"/>
<g class="t">
<text x="22.9" y="511.20" font-size="8.2" text-anchor="end">0.0</text>
<text x="22.9" y="455.52" font-size="8.2" text-anchor="end">0.2</text>
<text x="22.9" y="399.84" font-size="8.2" text-anchor="end">0.4</text>
<text x="22.9" y="344.16" font-size="8.2" text-anchor="end">0.6</text>
<text x="22.9" y="288.48" font-size="8.2" text-anchor="end">0.8</text>
<text x="40.30" y="535.7" font-size="8.2" text-anchor="middle">−3</text>
<text x="98.00" y="535.7" font-size="8.2" text-anchor="middle">−2</text>
<text x="155.70" y="535.7" font-size="8.2" text-anchor="middle">−1</text>
<text x="213.40" y="535.7" font-size="8.2" text-anchor="middle">0</text>
<text x="271.10" y="535.7" font-size="8.2" text-anchor="middle">1</text>
<text x="328.80" y="535.7" font-size="8.2" text-anchor="middle">2</text>
<text x="386.50" y="535.7" font-size="8.2" text-anchor="middle">3</text>
</g>
<text x="213.4" y="544.6" font-size="10.25" text-anchor="middle">Normal Theoretical Quantiles</text>
<text transform="translate(11.3,398.8) rotate(-90)" font-size="10.25" text-anchor="middle">Observed Quantiles (Fisher Information)</text>
</svg>
</body></html>
